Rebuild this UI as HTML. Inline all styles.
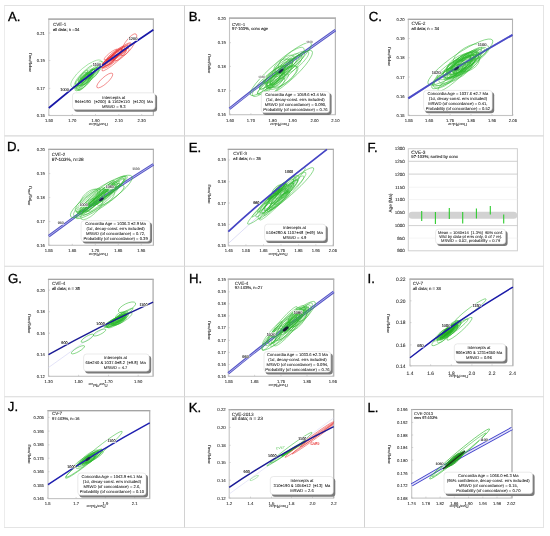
<!DOCTYPE html>
<html><head><meta charset="utf-8"><style>
html,body{margin:0;padding:0;background:#fff;}
svg{display:block;}
svg text{font-family:"Liberation Sans", Arial, sans-serif;text-rendering:geometricPrecision;}
</style></head><body>
<svg width="550" height="536" viewBox="0 0 550 536">
<rect width="550" height="536" fill="#fff"/>
<g fill="none">
<line x1="4" y1="5.5" x2="544" y2="5.5" stroke="#e2e2e2" stroke-width="1"/>
<line x1="4.5" y1="5.5" x2="4.5" y2="527.5" stroke="#ececec" stroke-width="1"/>
<line x1="543.5" y1="5.5" x2="543.5" y2="527.5" stroke="#e4e4e4" stroke-width="1"/>
<line x1="4" y1="527.5" x2="544" y2="527.5" stroke="#e4e4e4" stroke-width="1"/>
<line x1="184.5" y1="5.5" x2="184.5" y2="527.5" stroke="#d2d2d2" stroke-width="1"/>
<line x1="364.5" y1="5.5" x2="364.5" y2="527.5" stroke="#d2d2d2" stroke-width="1"/>
<line x1="4.5" y1="135.9" x2="543.5" y2="135.9" stroke="#d8d8d8" stroke-width="1.1"/>
<line x1="4.5" y1="266.3" x2="543.5" y2="266.3" stroke="#d8d8d8" stroke-width="1.1"/>
<line x1="4.5" y1="396.8" x2="543.5" y2="396.8" stroke="#d8d8d8" stroke-width="1.1"/>
</g>
<text x="8" y="20.5" font-size="13.2" fill="#000" stroke="#000" stroke-width="0.3">A.</text>
<rect x="48.8" y="19.1" width="104.6" height="96.4" fill="#fff" stroke="#c4c4c4" stroke-width="1.1"/>
<line x1="48.25" y1="19.1" x2="153.95" y2="19.1" stroke="#a4a4a4" stroke-width="1.2"/>
<line x1="153.4" y1="19.1" x2="153.4" y2="115.5" stroke="#b4b4b4" stroke-width="1.0"/>
<text x="44.8" y="34.51" font-size="4.2" text-anchor="end" fill="#1a1a1a" stroke="#1a1a1a" stroke-width="0.06">0.21</text>
<line x1="48.8" y1="33" x2="50.3" y2="33" stroke="#bbb" stroke-width="0.6"/>
<text x="44.8" y="62.01" font-size="4.2" text-anchor="end" fill="#1a1a1a" stroke="#1a1a1a" stroke-width="0.06">0.19</text>
<line x1="48.8" y1="60.5" x2="50.3" y2="60.5" stroke="#bbb" stroke-width="0.6"/>
<text x="44.8" y="89.91" font-size="4.2" text-anchor="end" fill="#1a1a1a" stroke="#1a1a1a" stroke-width="0.06">0.17</text>
<line x1="48.8" y1="88.4" x2="50.3" y2="88.4" stroke="#bbb" stroke-width="0.6"/>
<text x="44.8" y="117.01" font-size="4.2" text-anchor="end" fill="#1a1a1a" stroke="#1a1a1a" stroke-width="0.06">0.15</text>
<line x1="48.8" y1="115.5" x2="50.3" y2="115.5" stroke="#bbb" stroke-width="0.6"/>
<text x="49" y="122.01" font-size="4.2" text-anchor="middle" fill="#1a1a1a" stroke="#1a1a1a" stroke-width="0.06">1.50</text>
<line x1="49" y1="115.5" x2="49" y2="114" stroke="#bbb" stroke-width="0.6"/>
<text x="72.3" y="122.01" font-size="4.2" text-anchor="middle" fill="#1a1a1a" stroke="#1a1a1a" stroke-width="0.06">1.70</text>
<line x1="72.3" y1="115.5" x2="72.3" y2="114" stroke="#bbb" stroke-width="0.6"/>
<text x="95.5" y="122.01" font-size="4.2" text-anchor="middle" fill="#1a1a1a" stroke="#1a1a1a" stroke-width="0.06">1.90</text>
<line x1="95.5" y1="115.5" x2="95.5" y2="114" stroke="#bbb" stroke-width="0.6"/>
<text x="118.8" y="122.01" font-size="4.2" text-anchor="middle" fill="#1a1a1a" stroke="#1a1a1a" stroke-width="0.06">2.10</text>
<line x1="118.8" y1="115.5" x2="118.8" y2="114" stroke="#bbb" stroke-width="0.6"/>
<text x="141.7" y="122.01" font-size="4.2" text-anchor="middle" fill="#1a1a1a" stroke="#1a1a1a" stroke-width="0.06">2.30</text>
<line x1="141.7" y1="115.5" x2="141.7" y2="114" stroke="#bbb" stroke-width="0.6"/>
<text x="0" y="0" font-size="4.3" text-anchor="middle" fill="#222" stroke="#222" stroke-width="0.06" transform="translate(32.2 62.3) rotate(-90)"><tspan font-size="2.9" dy="-1.3">206</tspan><tspan dy="1.3">Pb/</tspan><tspan font-size="2.9" dy="-1.3">238</tspan><tspan dy="1.3">U</tspan></text>
<text x="98.3" y="126.1" font-size="4.3" text-anchor="middle" fill="#222" stroke="#222" stroke-width="0.06"><tspan font-size="2.9" dy="-1.3">207</tspan><tspan dy="1.3">Pb/</tspan><tspan font-size="2.9" dy="-1.3">235</tspan><tspan dy="1.3">U</tspan></text>
<text x="52.9" y="25.7" font-size="4.6" fill="#1a1a1a" stroke="#1a1a1a" stroke-width="0.06">CVE-1</text>
<text x="52.9" y="30.5" font-size="4.19" fill="#1a1a1a" stroke="#1a1a1a" stroke-width="0.1">all data; n =34</text>
<ellipse cx="83.86" cy="80.14" rx="6.94" ry="3.62" transform="rotate(-44.22 83.86 80.14)" fill="none" stroke="#2cb82c" stroke-width="0.45"/>
<ellipse cx="85.3" cy="78.96" rx="9.15" ry="3.13" transform="rotate(-47.96 85.3 78.96)" fill="none" stroke="#2cb82c" stroke-width="0.45"/>
<ellipse cx="86.73" cy="77.49" rx="11.85" ry="2.58" transform="rotate(-44.62 86.73 77.49)" fill="none" stroke="#2cb82c" stroke-width="0.45"/>
<ellipse cx="86.09" cy="82.36" rx="11.05" ry="2.07" transform="rotate(-47.94 86.09 82.36)" fill="none" stroke="#2cb82c" stroke-width="0.45"/>
<ellipse cx="86.42" cy="79.69" rx="6.18" ry="2.85" transform="rotate(-46.45 86.42 79.69)" fill="none" stroke="#2cb82c" stroke-width="0.45"/>
<ellipse cx="91.64" cy="73.6" rx="8.95" ry="1.57" transform="rotate(-44.22 91.64 73.6)" fill="none" stroke="#2cb82c" stroke-width="0.45"/>
<ellipse cx="91.8" cy="73.51" rx="7.63" ry="2.08" transform="rotate(-45.87 91.8 73.51)" fill="none" stroke="#2cb82c" stroke-width="0.45"/>
<ellipse cx="83.49" cy="77.46" rx="6.15" ry="3.59" transform="rotate(-46.7 83.49 77.46)" fill="none" stroke="#2cb82c" stroke-width="0.45"/>
<ellipse cx="90.29" cy="75.76" rx="12.95" ry="3.65" transform="rotate(-42.41 90.29 75.76)" fill="none" stroke="#2cb82c" stroke-width="0.45"/>
<ellipse cx="88.97" cy="72" rx="10.98" ry="3.84" transform="rotate(-42.82 88.97 72)" fill="none" stroke="#2cb82c" stroke-width="0.45"/>
<ellipse cx="83.04" cy="83.76" rx="8.12" ry="2.97" transform="rotate(-44.14 83.04 83.76)" fill="none" stroke="#2cb82c" stroke-width="0.45"/>
<ellipse cx="84.86" cy="79.29" rx="10.12" ry="1.59" transform="rotate(-43.8 84.86 79.29)" fill="none" stroke="#2cb82c" stroke-width="0.45"/>
<ellipse cx="84.15" cy="80.42" rx="10.92" ry="3.19" transform="rotate(-44.12 84.15 80.42)" fill="none" stroke="#2cb82c" stroke-width="0.45"/>
<ellipse cx="83.99" cy="81.51" rx="11.45" ry="2.8" transform="rotate(-47.95 83.99 81.51)" fill="none" stroke="#2cb82c" stroke-width="0.45"/>
<ellipse cx="93.36" cy="73.22" rx="6.3" ry="3.26" transform="rotate(-45.04 93.36 73.22)" fill="none" stroke="#2cb82c" stroke-width="0.45"/>
<ellipse cx="94.01" cy="70.81" rx="7.19" ry="2.76" transform="rotate(-43.87 94.01 70.81)" fill="none" stroke="#2cb82c" stroke-width="0.45"/>
<ellipse cx="85.9" cy="77.8" rx="12.02" ry="2.08" transform="rotate(-43.56 85.9 77.8)" fill="none" stroke="#2cb82c" stroke-width="0.45"/>
<ellipse cx="81.34" cy="77.1" rx="9.21" ry="2.17" transform="rotate(-48.14 81.34 77.1)" fill="none" stroke="#2cb82c" stroke-width="0.45"/>
<ellipse cx="83.78" cy="82.7" rx="11.49" ry="3.55" transform="rotate(-41.71 83.78 82.7)" fill="none" stroke="#2cb82c" stroke-width="0.45"/>
<ellipse cx="87.32" cy="76.32" rx="9.63" ry="2.9" transform="rotate(-41.23 87.32 76.32)" fill="none" stroke="#2cb82c" stroke-width="0.45"/>
<ellipse cx="85.64" cy="75.99" rx="9.99" ry="2" transform="rotate(-45.33 85.64 75.99)" fill="none" stroke="#2cb82c" stroke-width="0.45"/>
<ellipse cx="81.91" cy="79.61" rx="8.42" ry="2.85" transform="rotate(-44.52 81.91 79.61)" fill="none" stroke="#2cb82c" stroke-width="0.45"/>
<ellipse cx="86.4" cy="73.65" rx="19.69" ry="6.5" transform="rotate(-40.36 86.4 73.65)" fill="none" stroke="#5ccc5c" stroke-width="0.5"/>
<ellipse cx="88.5" cy="75" rx="19.47" ry="4.8" transform="rotate(-41.88 88.5 75)" fill="none" stroke="#5ccc5c" stroke-width="0.5"/>
<ellipse cx="115.45" cy="57.43" rx="12.69" ry="3.11" transform="rotate(-37.5 115.45 57.43)" fill="none" stroke="#e83030" stroke-width="0.45"/>
<ellipse cx="119.66" cy="52.79" rx="11.15" ry="2.64" transform="rotate(-39.33 119.66 52.79)" fill="none" stroke="#e83030" stroke-width="0.45"/>
<ellipse cx="115.62" cy="55.17" rx="10.07" ry="1.77" transform="rotate(-38.4 115.62 55.17)" fill="none" stroke="#e83030" stroke-width="0.45"/>
<ellipse cx="112.39" cy="57.4" rx="12.96" ry="3.11" transform="rotate(-42.04 112.39 57.4)" fill="none" stroke="#e83030" stroke-width="0.45"/>
<ellipse cx="114.66" cy="55.98" rx="6.25" ry="1.55" transform="rotate(-41.14 114.66 55.98)" fill="none" stroke="#e83030" stroke-width="0.45"/>
<ellipse cx="112.78" cy="57.69" rx="12.24" ry="2.39" transform="rotate(-43.99 112.78 57.69)" fill="none" stroke="#e83030" stroke-width="0.45"/>
<ellipse cx="110.63" cy="54.51" rx="8.28" ry="1.73" transform="rotate(-38.79 110.63 54.51)" fill="none" stroke="#e83030" stroke-width="0.45"/>
<ellipse cx="108.09" cy="63.13" rx="7.27" ry="3.02" transform="rotate(-36.93 108.09 63.13)" fill="none" stroke="#e83030" stroke-width="0.45"/>
<ellipse cx="115.66" cy="53.83" rx="11.34" ry="2.84" transform="rotate(-38.15 115.66 53.83)" fill="none" stroke="#e83030" stroke-width="0.45"/>
<ellipse cx="109.43" cy="61.11" rx="11.01" ry="2.28" transform="rotate(-36.79 109.43 61.11)" fill="none" stroke="#e83030" stroke-width="0.45"/>
<ellipse cx="108.85" cy="61.42" rx="9.51" ry="2.91" transform="rotate(-36.99 108.85 61.42)" fill="none" stroke="#e83030" stroke-width="0.45"/>
<ellipse cx="121.91" cy="54.56" rx="9.23" ry="2.47" transform="rotate(-40.29 121.91 54.56)" fill="none" stroke="#e83030" stroke-width="0.45"/>
<ellipse cx="128.75" cy="44.75" rx="12.97" ry="4.2" transform="rotate(-56 128.75 44.75)" fill="none" stroke="#e83030" stroke-width="0.5"/>
<ellipse cx="115.75" cy="55.25" rx="15.75" ry="2.5" transform="rotate(-35.96 115.75 55.25)" fill="none" stroke="#e83030" stroke-width="0.5"/>
<ellipse cx="114.25" cy="60.25" rx="16.1" ry="2.8" transform="rotate(-40.47 114.25 60.25)" fill="none" stroke="#e83030" stroke-width="0.5"/>
<ellipse cx="118" cy="53" rx="15" ry="2.2" transform="rotate(-36.87 118 53)" fill="none" stroke="#e83030" stroke-width="0.5"/>
<ellipse cx="121" cy="50.5" rx="12.5" ry="2.6" transform="rotate(-36.87 121 50.5)" fill="none" stroke="#e83030" stroke-width="0.5"/>
<ellipse cx="104.75" cy="80.5" rx="10.44" ry="3.2" transform="rotate(-42.09 104.75 80.5)" fill="none" stroke="#e83030" stroke-width="0.5"/>
<path d="M48.8 108 Q98.7 65.7 153.4 29.8" fill="none" stroke="#1818a8" stroke-width="1.7"/>
<rect x="59.86" y="87.84" width="9.47" height="3.51" fill="#fff"/>
<text x="64.6" y="91" font-size="3.9" text-anchor="middle" fill="#1a1a1a" stroke="#1a1a1a" stroke-width="0.12">1000</text>
<rect x="92.26" y="62.54" width="9.47" height="3.51" fill="#fff"/>
<text x="97" y="65.7" font-size="3.9" text-anchor="middle" fill="#1a1a1a" stroke="#1a1a1a" stroke-width="0.12">1100</text>
<rect x="128.26" y="37.24" width="9.47" height="3.51" fill="#fff"/>
<text x="133" y="40.4" font-size="3.9" text-anchor="middle" fill="#1a1a1a" stroke="#1a1a1a" stroke-width="0.12">1200</text>
<rect x="74.1" y="94.6" width="83" height="17.2" rx="3" fill="#7a7a7a"/>
<rect x="72.5" y="92.8" width="82.6" height="16.8" rx="3" fill="#fff" stroke="#d4d4d4" stroke-width="0.5"/>
<text x="113.7" y="98.59" font-size="4.15" text-anchor="middle" fill="#000" stroke="#000" stroke-width="0.03">Intercepts at</text>
<text x="113.7" y="103.29" font-size="4.15" text-anchor="middle" fill="#000" stroke="#000" stroke-width="0.03">944±190 &#160; [±200] &#160;&amp; 1162±110 &#160; [±120] &#160;Ma</text>
<text x="113.7" y="108.09" font-size="4.15" text-anchor="middle" fill="#000" stroke="#000" stroke-width="0.03">MSWD = 9.3</text>
<text x="188.8" y="20.5" font-size="13.2" fill="#000" stroke="#000" stroke-width="0.3">B.</text>
<rect x="229.5" y="18.1" width="105.9" height="96.6" fill="#fff" stroke="#c4c4c4" stroke-width="1.1"/>
<line x1="228.95" y1="18.1" x2="335.95" y2="18.1" stroke="#a4a4a4" stroke-width="1.2"/>
<line x1="335.4" y1="18.1" x2="335.4" y2="114.7" stroke="#b4b4b4" stroke-width="1.0"/>
<text x="225.8" y="19.61" font-size="4.2" text-anchor="end" fill="#1a1a1a" stroke="#1a1a1a" stroke-width="0.06">0.20</text>
<line x1="229.5" y1="18.1" x2="231" y2="18.1" stroke="#bbb" stroke-width="0.6"/>
<text x="225.8" y="44.21" font-size="4.2" text-anchor="end" fill="#1a1a1a" stroke="#1a1a1a" stroke-width="0.06">0.19</text>
<line x1="229.5" y1="42.7" x2="231" y2="42.7" stroke="#bbb" stroke-width="0.6"/>
<text x="225.8" y="67.91" font-size="4.2" text-anchor="end" fill="#1a1a1a" stroke="#1a1a1a" stroke-width="0.06">0.18</text>
<line x1="229.5" y1="66.4" x2="231" y2="66.4" stroke="#bbb" stroke-width="0.6"/>
<text x="225.8" y="92.31" font-size="4.2" text-anchor="end" fill="#1a1a1a" stroke="#1a1a1a" stroke-width="0.06">0.17</text>
<line x1="229.5" y1="90.8" x2="231" y2="90.8" stroke="#bbb" stroke-width="0.6"/>
<text x="225.8" y="116.21" font-size="4.2" text-anchor="end" fill="#1a1a1a" stroke="#1a1a1a" stroke-width="0.06">0.16</text>
<line x1="229.5" y1="114.7" x2="231" y2="114.7" stroke="#bbb" stroke-width="0.6"/>
<text x="230" y="122.01" font-size="4.2" text-anchor="middle" fill="#1a1a1a" stroke="#1a1a1a" stroke-width="0.06">1.60</text>
<line x1="230" y1="114.7" x2="230" y2="113.2" stroke="#bbb" stroke-width="0.6"/>
<text x="250.9" y="122.01" font-size="4.2" text-anchor="middle" fill="#1a1a1a" stroke="#1a1a1a" stroke-width="0.06">1.70</text>
<line x1="250.9" y1="114.7" x2="250.9" y2="113.2" stroke="#bbb" stroke-width="0.6"/>
<text x="272.7" y="122.01" font-size="4.2" text-anchor="middle" fill="#1a1a1a" stroke="#1a1a1a" stroke-width="0.06">1.80</text>
<line x1="272.7" y1="114.7" x2="272.7" y2="113.2" stroke="#bbb" stroke-width="0.6"/>
<text x="292.7" y="122.01" font-size="4.2" text-anchor="middle" fill="#1a1a1a" stroke="#1a1a1a" stroke-width="0.06">1.90</text>
<line x1="292.7" y1="114.7" x2="292.7" y2="113.2" stroke="#bbb" stroke-width="0.6"/>
<text x="314.5" y="122.01" font-size="4.2" text-anchor="middle" fill="#1a1a1a" stroke="#1a1a1a" stroke-width="0.06">2.00</text>
<line x1="314.5" y1="114.7" x2="314.5" y2="113.2" stroke="#bbb" stroke-width="0.6"/>
<text x="335.4" y="122.01" font-size="4.2" text-anchor="middle" fill="#1a1a1a" stroke="#1a1a1a" stroke-width="0.06">2.10</text>
<line x1="335.4" y1="114.7" x2="335.4" y2="113.2" stroke="#bbb" stroke-width="0.6"/>
<text x="0" y="0" font-size="4.3" text-anchor="middle" fill="#222" stroke="#222" stroke-width="0.06" transform="translate(211.2 63.7) rotate(-90)"><tspan font-size="2.9" dy="-1.3">206</tspan><tspan dy="1.3">Pb/</tspan><tspan font-size="2.9" dy="-1.3">238</tspan><tspan dy="1.3">U</tspan></text>
<text x="279.65" y="126.1" font-size="4.3" text-anchor="middle" fill="#222" stroke="#222" stroke-width="0.06"><tspan font-size="2.9" dy="-1.3">207</tspan><tspan dy="1.3">Pb/</tspan><tspan font-size="2.9" dy="-1.3">235</tspan><tspan dy="1.3">U</tspan></text>
<text x="232.1" y="25.8" font-size="4.45" fill="#1a1a1a" stroke="#1a1a1a" stroke-width="0.06">CVE-1</text>
<text x="232.1" y="30" font-size="4.2" fill="#1a1a1a" stroke="#1a1a1a" stroke-width="0.1">97-103%, conc age</text>
<path d="M229.5 108.7 Q281.02 67.47 335.4 30.1" fill="none" stroke="#5656c6" stroke-width="2.7"/>
<path d="M229.5 108.7 Q281.02 67.47 335.4 30.1" fill="none" stroke="#adadea" stroke-width="1"/>
<ellipse cx="289.74" cy="61.92" rx="12.09" ry="4.4" transform="rotate(-39.36 289.74 61.92)" fill="none" stroke="#2cb82c" stroke-width="0.45"/>
<ellipse cx="277.29" cy="77.42" rx="9.85" ry="2.55" transform="rotate(-42.49 277.29 77.42)" fill="none" stroke="#2cb82c" stroke-width="0.45"/>
<ellipse cx="274.8" cy="80.2" rx="21.94" ry="4.15" transform="rotate(-39.25 274.8 80.2)" fill="none" stroke="#2cb82c" stroke-width="0.45"/>
<ellipse cx="275.91" cy="80.12" rx="10.96" ry="4.72" transform="rotate(-38.43 275.91 80.12)" fill="none" stroke="#2cb82c" stroke-width="0.45"/>
<ellipse cx="270.61" cy="81.86" rx="17.73" ry="2.72" transform="rotate(-41.95 270.61 81.86)" fill="none" stroke="#2cb82c" stroke-width="0.45"/>
<ellipse cx="282.1" cy="66.07" rx="9.4" ry="5.53" transform="rotate(-37.33 282.1 66.07)" fill="none" stroke="#2cb82c" stroke-width="0.45"/>
<ellipse cx="289.84" cy="60.05" rx="18.28" ry="5.72" transform="rotate(-40.81 289.84 60.05)" fill="none" stroke="#2cb82c" stroke-width="0.45"/>
<ellipse cx="286.1" cy="70.07" rx="21.16" ry="5.58" transform="rotate(-42.63 286.1 70.07)" fill="none" stroke="#2cb82c" stroke-width="0.45"/>
<ellipse cx="275.98" cy="74.86" rx="21.55" ry="4.03" transform="rotate(-40.31 275.98 74.86)" fill="none" stroke="#2cb82c" stroke-width="0.45"/>
<ellipse cx="274.36" cy="74.23" rx="14.02" ry="3.73" transform="rotate(-37.13 274.36 74.23)" fill="none" stroke="#2cb82c" stroke-width="0.45"/>
<ellipse cx="283.4" cy="77.73" rx="17.87" ry="5.75" transform="rotate(-37.48 283.4 77.73)" fill="none" stroke="#2cb82c" stroke-width="0.45"/>
<ellipse cx="268.63" cy="81.36" rx="21.54" ry="5.67" transform="rotate(-42.68 268.63 81.36)" fill="none" stroke="#2cb82c" stroke-width="0.45"/>
<ellipse cx="280.58" cy="70.68" rx="19.81" ry="4.51" transform="rotate(-37.53 280.58 70.68)" fill="none" stroke="#2cb82c" stroke-width="0.45"/>
<ellipse cx="286.03" cy="69.8" rx="21.87" ry="2.81" transform="rotate(-43.16 286.03 69.8)" fill="none" stroke="#2cb82c" stroke-width="0.45"/>
<ellipse cx="282.62" cy="67.81" rx="12.82" ry="5.19" transform="rotate(-39.45 282.62 67.81)" fill="none" stroke="#2cb82c" stroke-width="0.45"/>
<ellipse cx="273.07" cy="78.73" rx="9.58" ry="5.01" transform="rotate(-36.52 273.07 78.73)" fill="none" stroke="#2cb82c" stroke-width="0.45"/>
<ellipse cx="284.45" cy="76.47" rx="15.57" ry="5.99" transform="rotate(-39.57 284.45 76.47)" fill="none" stroke="#2cb82c" stroke-width="0.45"/>
<ellipse cx="272.83" cy="81.09" rx="9.41" ry="3.19" transform="rotate(-43.11 272.83 81.09)" fill="none" stroke="#2cb82c" stroke-width="0.45"/>
<ellipse cx="274.99" cy="80.64" rx="9.55" ry="5.54" transform="rotate(-37.19 274.99 80.64)" fill="none" stroke="#2cb82c" stroke-width="0.45"/>
<ellipse cx="273.88" cy="87.36" rx="13.91" ry="4.11" transform="rotate(-39.6 273.88 87.36)" fill="none" stroke="#2cb82c" stroke-width="0.45"/>
<ellipse cx="292.14" cy="62.64" rx="16.27" ry="4.67" transform="rotate(-40.92 292.14 62.64)" fill="none" stroke="#2cb82c" stroke-width="0.45"/>
<ellipse cx="273.88" cy="77.24" rx="18.36" ry="3.33" transform="rotate(-40.2 273.88 77.24)" fill="none" stroke="#2cb82c" stroke-width="0.45"/>
<ellipse cx="277.04" cy="85.77" rx="16.13" ry="2.54" transform="rotate(-44.2 277.04 85.77)" fill="none" stroke="#2cb82c" stroke-width="0.45"/>
<ellipse cx="295.47" cy="62.94" rx="17.01" ry="4.71" transform="rotate(-40.63 295.47 62.94)" fill="none" stroke="#2cb82c" stroke-width="0.45"/>
<ellipse cx="279.5" cy="75.95" rx="17.83" ry="3.73" transform="rotate(-44.19 279.5 75.95)" fill="none" stroke="#2cb82c" stroke-width="0.45"/>
<ellipse cx="286.3" cy="62.47" rx="9.79" ry="4.87" transform="rotate(-40.71 286.3 62.47)" fill="none" stroke="#2cb82c" stroke-width="0.45"/>
<ellipse cx="280.75" cy="69" rx="39.89" ry="7.5" transform="rotate(-40.68 280.75 69)" fill="none" stroke="#2cb82c" stroke-width="0.5"/>
<ellipse cx="287" cy="73.5" rx="33.63" ry="7.5" transform="rotate(-41.99 287 73.5)" fill="none" stroke="#2cb82c" stroke-width="0.5"/>
<ellipse cx="281" cy="71" rx="2.8" ry="0.9" transform="rotate(-38 281 71)" fill="#22224a" stroke="#1a1a60" stroke-width="0.5"/>
<rect x="257.95" y="75.7" width="7.69" height="2.79" fill="#fff"/>
<text x="261.8" y="78.22" font-size="3.1" text-anchor="middle" fill="#777" stroke="#777" stroke-width="0.12">1040</text>
<rect x="305.65" y="40.4" width="7.69" height="2.79" fill="#fff"/>
<text x="309.5" y="42.92" font-size="3.1" text-anchor="middle" fill="#777" stroke="#777" stroke-width="0.12">1100</text>
<rect x="262.9" y="93.3" width="68.7" height="21.7" rx="3" fill="#7a7a7a"/>
<rect x="261.3" y="91.5" width="68.3" height="21.3" rx="3" fill="#fff" stroke="#d4d4d4" stroke-width="0.5"/>
<text x="295.45" y="96.09" font-size="4.15" text-anchor="middle" fill="#000" stroke="#000" stroke-width="0.03">Concordia Age = 1059.6 ±3.4 Ma</text>
<text x="295.45" y="100.79" font-size="4.15" text-anchor="middle" fill="#000" stroke="#000" stroke-width="0.03">(1σ, decay-const. errs included)</text>
<text x="295.45" y="105.59" font-size="4.15" text-anchor="middle" fill="#000" stroke="#000" stroke-width="0.03">MSWD (of concordance) = 0.090,</text>
<text x="295.45" y="110.69" font-size="4.15" text-anchor="middle" fill="#000" stroke="#000" stroke-width="0.03">Probability (of concordance) = 0.76</text>
<text x="368.8" y="21" font-size="13.2" fill="#000" stroke="#000" stroke-width="0.3">C.</text>
<rect x="408.3" y="19.3" width="104.2" height="96.2" fill="#fff" stroke="#c4c4c4" stroke-width="1.1"/>
<line x1="407.75" y1="19.3" x2="513.05" y2="19.3" stroke="#a4a4a4" stroke-width="1.2"/>
<line x1="512.5" y1="19.3" x2="512.5" y2="115.5" stroke="#b4b4b4" stroke-width="1.0"/>
<text x="404.6" y="20.71" font-size="4.2" text-anchor="end" fill="#1a1a1a" stroke="#1a1a1a" stroke-width="0.06">0.20</text>
<line x1="408.3" y1="19.2" x2="409.8" y2="19.2" stroke="#bbb" stroke-width="0.6"/>
<text x="404.6" y="40.01" font-size="4.2" text-anchor="end" fill="#1a1a1a" stroke="#1a1a1a" stroke-width="0.06">0.19</text>
<line x1="408.3" y1="38.5" x2="409.8" y2="38.5" stroke="#bbb" stroke-width="0.6"/>
<text x="404.6" y="59.21" font-size="4.2" text-anchor="end" fill="#1a1a1a" stroke="#1a1a1a" stroke-width="0.06">0.18</text>
<line x1="408.3" y1="57.7" x2="409.8" y2="57.7" stroke="#bbb" stroke-width="0.6"/>
<text x="404.6" y="78.51" font-size="4.2" text-anchor="end" fill="#1a1a1a" stroke="#1a1a1a" stroke-width="0.06">0.17</text>
<line x1="408.3" y1="77" x2="409.8" y2="77" stroke="#bbb" stroke-width="0.6"/>
<text x="404.6" y="97.81" font-size="4.2" text-anchor="end" fill="#1a1a1a" stroke="#1a1a1a" stroke-width="0.06">0.16</text>
<line x1="408.3" y1="96.3" x2="409.8" y2="96.3" stroke="#bbb" stroke-width="0.6"/>
<text x="404.6" y="117.01" font-size="4.2" text-anchor="end" fill="#1a1a1a" stroke="#1a1a1a" stroke-width="0.06">0.15</text>
<line x1="408.3" y1="115.5" x2="409.8" y2="115.5" stroke="#bbb" stroke-width="0.6"/>
<text x="408.8" y="122.41" font-size="4.2" text-anchor="middle" fill="#1a1a1a" stroke="#1a1a1a" stroke-width="0.06">1.55</text>
<line x1="408.8" y1="115.5" x2="408.8" y2="114" stroke="#bbb" stroke-width="0.6"/>
<text x="429.2" y="122.41" font-size="4.2" text-anchor="middle" fill="#1a1a1a" stroke="#1a1a1a" stroke-width="0.06">1.65</text>
<line x1="429.2" y1="115.5" x2="429.2" y2="114" stroke="#bbb" stroke-width="0.6"/>
<text x="450.1" y="122.41" font-size="4.2" text-anchor="middle" fill="#1a1a1a" stroke="#1a1a1a" stroke-width="0.06">1.75</text>
<line x1="450.1" y1="115.5" x2="450.1" y2="114" stroke="#bbb" stroke-width="0.6"/>
<text x="471" y="122.41" font-size="4.2" text-anchor="middle" fill="#1a1a1a" stroke="#1a1a1a" stroke-width="0.06">1.85</text>
<line x1="471" y1="115.5" x2="471" y2="114" stroke="#bbb" stroke-width="0.6"/>
<text x="492" y="122.41" font-size="4.2" text-anchor="middle" fill="#1a1a1a" stroke="#1a1a1a" stroke-width="0.06">1.95</text>
<line x1="492" y1="115.5" x2="492" y2="114" stroke="#bbb" stroke-width="0.6"/>
<text x="512.9" y="122.41" font-size="4.2" text-anchor="middle" fill="#1a1a1a" stroke="#1a1a1a" stroke-width="0.06">2.05</text>
<line x1="512.9" y1="115.5" x2="512.9" y2="114" stroke="#bbb" stroke-width="0.6"/>
<text x="0" y="0" font-size="4.3" text-anchor="middle" fill="#222" stroke="#222" stroke-width="0.06" transform="translate(390.9 56.3) rotate(-90)"><tspan font-size="2.9" dy="-1.3">206</tspan><tspan dy="1.3">Pb/</tspan><tspan font-size="2.9" dy="-1.3">238</tspan><tspan dy="1.3">U</tspan></text>
<text x="457.6" y="126.4" font-size="4.3" text-anchor="middle" fill="#222" stroke="#222" stroke-width="0.06"><tspan font-size="2.9" dy="-1.3">207</tspan><tspan dy="1.3">Pb/</tspan><tspan font-size="2.9" dy="-1.3">235</tspan><tspan dy="1.3">U</tspan></text>
<text x="411.5" y="25.4" font-size="4.75" fill="#1a1a1a" stroke="#1a1a1a" stroke-width="0.06">CVE-2</text>
<text x="411.5" y="30" font-size="4.19" fill="#1a1a1a" stroke="#1a1a1a" stroke-width="0.1">all data; n = 34</text>
<path d="M408.3 98.4 Q459.36 64.89 512.5 34.8" fill="none" stroke="#4c4cc8" stroke-width="1.9"/>
<ellipse cx="461.5" cy="63.13" rx="12.07" ry="2.96" transform="rotate(-40.18 461.5 63.13)" fill="none" stroke="#2cb82c" stroke-width="0.45"/>
<ellipse cx="444.85" cy="78.01" rx="14.22" ry="6.63" transform="rotate(-38.01 444.85 78.01)" fill="none" stroke="#2cb82c" stroke-width="0.45"/>
<ellipse cx="463.27" cy="64.41" rx="15.98" ry="3.75" transform="rotate(-38.11 463.27 64.41)" fill="none" stroke="#2cb82c" stroke-width="0.45"/>
<ellipse cx="462.84" cy="66.17" rx="21.06" ry="6.23" transform="rotate(-32.34 462.84 66.17)" fill="none" stroke="#2cb82c" stroke-width="0.45"/>
<ellipse cx="463.25" cy="66.55" rx="18.51" ry="6.35" transform="rotate(-32.63 463.25 66.55)" fill="none" stroke="#2cb82c" stroke-width="0.45"/>
<ellipse cx="463.13" cy="62.65" rx="17.73" ry="4.78" transform="rotate(-39.86 463.13 62.65)" fill="none" stroke="#2cb82c" stroke-width="0.45"/>
<ellipse cx="453.2" cy="74.12" rx="21.15" ry="6.39" transform="rotate(-28.39 453.2 74.12)" fill="none" stroke="#2cb82c" stroke-width="0.45"/>
<ellipse cx="464.98" cy="61.54" rx="16.44" ry="6.47" transform="rotate(-35.32 464.98 61.54)" fill="none" stroke="#2cb82c" stroke-width="0.45"/>
<ellipse cx="461.56" cy="61.24" rx="16.79" ry="4.44" transform="rotate(-29.74 461.56 61.24)" fill="none" stroke="#2cb82c" stroke-width="0.45"/>
<ellipse cx="454.93" cy="71.88" rx="9.56" ry="2.71" transform="rotate(-33.63 454.93 71.88)" fill="none" stroke="#2cb82c" stroke-width="0.45"/>
<ellipse cx="464.16" cy="60.91" rx="15.13" ry="4.04" transform="rotate(-35.34 464.16 60.91)" fill="none" stroke="#2cb82c" stroke-width="0.45"/>
<ellipse cx="457.55" cy="67.44" rx="11.63" ry="5.35" transform="rotate(-30.66 457.55 67.44)" fill="none" stroke="#2cb82c" stroke-width="0.45"/>
<ellipse cx="464.1" cy="66.4" rx="13.17" ry="5.01" transform="rotate(-40.25 464.1 66.4)" fill="none" stroke="#2cb82c" stroke-width="0.45"/>
<ellipse cx="453.44" cy="69.32" rx="11.98" ry="5.94" transform="rotate(-36.48 453.44 69.32)" fill="none" stroke="#2cb82c" stroke-width="0.45"/>
<ellipse cx="472.04" cy="55.9" rx="11.31" ry="4.57" transform="rotate(-28.57 472.04 55.9)" fill="none" stroke="#2cb82c" stroke-width="0.45"/>
<ellipse cx="461.42" cy="66.35" rx="21.41" ry="5.81" transform="rotate(-37.07 461.42 66.35)" fill="none" stroke="#2cb82c" stroke-width="0.45"/>
<ellipse cx="470.81" cy="58.33" rx="21.56" ry="5.99" transform="rotate(-32.43 470.81 58.33)" fill="none" stroke="#2cb82c" stroke-width="0.45"/>
<ellipse cx="469.06" cy="61.1" rx="19.63" ry="3.82" transform="rotate(-39.2 469.06 61.1)" fill="none" stroke="#2cb82c" stroke-width="0.45"/>
<ellipse cx="460" cy="65.58" rx="13.96" ry="6.83" transform="rotate(-40.49 460 65.58)" fill="none" stroke="#2cb82c" stroke-width="0.45"/>
<ellipse cx="463.94" cy="61.2" rx="11.2" ry="6.03" transform="rotate(-39.76 463.94 61.2)" fill="none" stroke="#2cb82c" stroke-width="0.45"/>
<ellipse cx="462.29" cy="64.6" rx="21.76" ry="4.41" transform="rotate(-40.34 462.29 64.6)" fill="none" stroke="#2cb82c" stroke-width="0.45"/>
<ellipse cx="461.46" cy="65.45" rx="11.19" ry="5.55" transform="rotate(-34.25 461.46 65.45)" fill="none" stroke="#2cb82c" stroke-width="0.45"/>
<ellipse cx="468.42" cy="63.32" rx="12.24" ry="6.99" transform="rotate(-30.28 468.42 63.32)" fill="none" stroke="#2cb82c" stroke-width="0.45"/>
<ellipse cx="458.72" cy="64.02" rx="14.32" ry="6.94" transform="rotate(-35.37 458.72 64.02)" fill="none" stroke="#2cb82c" stroke-width="0.45"/>
<ellipse cx="478.54" cy="53.33" rx="9.48" ry="4.4" transform="rotate(-29.48 478.54 53.33)" fill="none" stroke="#2cb82c" stroke-width="0.45"/>
<ellipse cx="465.89" cy="61.76" rx="15.48" ry="2.64" transform="rotate(-38.2 465.89 61.76)" fill="none" stroke="#2cb82c" stroke-width="0.45"/>
<ellipse cx="461.69" cy="65.42" rx="12.01" ry="6.41" transform="rotate(-28.12 461.69 65.42)" fill="none" stroke="#2cb82c" stroke-width="0.45"/>
<ellipse cx="467.49" cy="54.36" rx="16.35" ry="6.96" transform="rotate(-31.96 467.49 54.36)" fill="none" stroke="#2cb82c" stroke-width="0.45"/>
<ellipse cx="458.4" cy="65.3" rx="19.28" ry="5.85" transform="rotate(-38.16 458.4 65.3)" fill="none" stroke="#2cb82c" stroke-width="0.45"/>
<ellipse cx="456.51" cy="71.11" rx="20.36" ry="6.55" transform="rotate(-31.92 456.51 71.11)" fill="none" stroke="#2cb82c" stroke-width="0.45"/>
<ellipse cx="449.35" cy="74.79" rx="19.39" ry="5.39" transform="rotate(-31.95 449.35 74.79)" fill="none" stroke="#2cb82c" stroke-width="0.45"/>
<ellipse cx="451.87" cy="79.35" rx="17.92" ry="3.71" transform="rotate(-40.07 451.87 79.35)" fill="none" stroke="#2cb82c" stroke-width="0.45"/>
<ellipse cx="456.3" cy="67.79" rx="21.62" ry="6.83" transform="rotate(-28.53 456.3 67.79)" fill="none" stroke="#2cb82c" stroke-width="0.45"/>
<ellipse cx="455.85" cy="67.99" rx="10.66" ry="6.86" transform="rotate(-38.77 455.85 67.99)" fill="none" stroke="#2cb82c" stroke-width="0.45"/>
<ellipse cx="460.35" cy="62.05" rx="38.93" ry="8.5" transform="rotate(-34.32 460.35 62.05)" fill="none" stroke="#2cb82c" stroke-width="0.5"/>
<ellipse cx="454" cy="72" rx="27.2" ry="6" transform="rotate(-36.03 454 72)" fill="none" stroke="#2cb82c" stroke-width="0.5"/>
<path d="M408.3 98.4 Q459.36 64.89 512.5 34.8" fill="none" stroke="#4c4cc8" stroke-width="1.9" stroke-opacity="0.45"/>
<ellipse cx="456.7" cy="68.5" rx="2.6" ry="1" transform="rotate(-33 456.7 68.5)" fill="#22224a" stroke="#1a1a60" stroke-width="0.5"/>
<rect x="431.45" y="71.1" width="9.7" height="3.6" fill="#fff"/>
<text x="436.3" y="74.34" font-size="4" text-anchor="middle" fill="#1a1a1a" stroke="#1a1a1a" stroke-width="0.12">1020</text>
<rect x="477.25" y="43.2" width="9.7" height="3.6" fill="#fff"/>
<text x="482.1" y="46.44" font-size="4" text-anchor="middle" fill="#1a1a1a" stroke="#1a1a1a" stroke-width="0.12">1100</text>
<rect x="425.2" y="92.2" width="69" height="21" rx="3" fill="#7a7a7a"/>
<rect x="423.6" y="90.4" width="68.6" height="20.6" rx="3" fill="#fff" stroke="#d4d4d4" stroke-width="0.5"/>
<text x="457.9" y="95.29" font-size="4.15" text-anchor="middle" fill="#000" stroke="#000" stroke-width="0.03">Concordia Age = 1037.6 ±2.7 Ma</text>
<text x="457.9" y="99.99" font-size="4.15" text-anchor="middle" fill="#000" stroke="#000" stroke-width="0.03">(1σ, decay-const. errs included)</text>
<text x="457.9" y="104.89" font-size="4.15" text-anchor="middle" fill="#000" stroke="#000" stroke-width="0.03">MSWD (of concordance) = 0.41,</text>
<text x="457.9" y="109.79" font-size="4.15" text-anchor="middle" fill="#000" stroke="#000" stroke-width="0.03">Probability (of concordance) = 0.52</text>
<text x="7" y="150.8" font-size="13.2" fill="#000" stroke="#000" stroke-width="0.3">D.</text>
<rect x="48.8" y="149.4" width="104.6" height="95.9" fill="#fff" stroke="#c4c4c4" stroke-width="1.1"/>
<line x1="48.25" y1="149.4" x2="153.95" y2="149.4" stroke="#a4a4a4" stroke-width="1.2"/>
<line x1="153.4" y1="149.4" x2="153.4" y2="245.3" stroke="#b4b4b4" stroke-width="1.0"/>
<text x="44.8" y="150.91" font-size="4.2" text-anchor="end" fill="#1a1a1a" stroke="#1a1a1a" stroke-width="0.06">0.20</text>
<line x1="48.8" y1="149.4" x2="50.3" y2="149.4" stroke="#bbb" stroke-width="0.6"/>
<text x="44.8" y="175.11" font-size="4.2" text-anchor="end" fill="#1a1a1a" stroke="#1a1a1a" stroke-width="0.06">0.19</text>
<line x1="48.8" y1="173.6" x2="50.3" y2="173.6" stroke="#bbb" stroke-width="0.6"/>
<text x="44.8" y="199.11" font-size="4.2" text-anchor="end" fill="#1a1a1a" stroke="#1a1a1a" stroke-width="0.06">0.18</text>
<line x1="48.8" y1="197.6" x2="50.3" y2="197.6" stroke="#bbb" stroke-width="0.6"/>
<text x="44.8" y="223.11" font-size="4.2" text-anchor="end" fill="#1a1a1a" stroke="#1a1a1a" stroke-width="0.06">0.17</text>
<line x1="48.8" y1="221.6" x2="50.3" y2="221.6" stroke="#bbb" stroke-width="0.6"/>
<text x="44.8" y="246.81" font-size="4.2" text-anchor="end" fill="#1a1a1a" stroke="#1a1a1a" stroke-width="0.06">0.16</text>
<line x1="48.8" y1="245.3" x2="50.3" y2="245.3" stroke="#bbb" stroke-width="0.6"/>
<text x="48.8" y="252.31" font-size="4.2" text-anchor="middle" fill="#1a1a1a" stroke="#1a1a1a" stroke-width="0.06">1.55</text>
<line x1="48.8" y1="245.3" x2="48.8" y2="243.8" stroke="#bbb" stroke-width="0.6"/>
<text x="72.3" y="252.31" font-size="4.2" text-anchor="middle" fill="#1a1a1a" stroke="#1a1a1a" stroke-width="0.06">1.65</text>
<line x1="72.3" y1="245.3" x2="72.3" y2="243.8" stroke="#bbb" stroke-width="0.6"/>
<text x="95.3" y="252.31" font-size="4.2" text-anchor="middle" fill="#1a1a1a" stroke="#1a1a1a" stroke-width="0.06">1.75</text>
<line x1="95.3" y1="245.3" x2="95.3" y2="243.8" stroke="#bbb" stroke-width="0.6"/>
<text x="118.3" y="252.31" font-size="4.2" text-anchor="middle" fill="#1a1a1a" stroke="#1a1a1a" stroke-width="0.06">1.85</text>
<line x1="118.3" y1="245.3" x2="118.3" y2="243.8" stroke="#bbb" stroke-width="0.6"/>
<text x="141.3" y="252.31" font-size="4.2" text-anchor="middle" fill="#1a1a1a" stroke="#1a1a1a" stroke-width="0.06">1.95</text>
<line x1="141.3" y1="245.3" x2="141.3" y2="243.8" stroke="#bbb" stroke-width="0.6"/>
<text x="0" y="0" font-size="4.3" text-anchor="middle" fill="#222" stroke="#222" stroke-width="0.06" transform="translate(31.6 195.6) rotate(-90)"><tspan font-size="2.9" dy="-1.3">206</tspan><tspan dy="1.3">Pb/</tspan><tspan font-size="2.9" dy="-1.3">238</tspan><tspan dy="1.3">U</tspan></text>
<text x="98.3" y="256.3" font-size="4.3" text-anchor="middle" fill="#222" stroke="#222" stroke-width="0.06"><tspan font-size="2.9" dy="-1.3">207</tspan><tspan dy="1.3">Pb/</tspan><tspan font-size="2.9" dy="-1.3">235</tspan><tspan dy="1.3">U</tspan></text>
<text x="51.8" y="155.7" font-size="4.55" fill="#1a1a1a" stroke="#1a1a1a" stroke-width="0.06">CVE-2</text>
<text x="51.8" y="160.9" font-size="4.7" fill="#1a1a1a" stroke="#1a1a1a" stroke-width="0.1">97-103%, n=28</text>
<path d="M48.8 236.1 Q99.52 197.94 153.4 164.4" fill="none" stroke="#5656c6" stroke-width="2.7"/>
<path d="M48.8 236.1 Q99.52 197.94 153.4 164.4" fill="none" stroke="#adadea" stroke-width="1"/>
<ellipse cx="100.97" cy="198.46" rx="18.72" ry="4.23" transform="rotate(-43.23 100.97 198.46)" fill="none" stroke="#2cb82c" stroke-width="0.45"/>
<ellipse cx="87.73" cy="200.19" rx="16.52" ry="4.83" transform="rotate(-42.56 87.73 200.19)" fill="none" stroke="#2cb82c" stroke-width="0.45"/>
<ellipse cx="88.46" cy="200.97" rx="16.57" ry="2.74" transform="rotate(-43.36 88.46 200.97)" fill="none" stroke="#2cb82c" stroke-width="0.45"/>
<ellipse cx="114.15" cy="187.29" rx="13.03" ry="2.84" transform="rotate(-42.19 114.15 187.29)" fill="none" stroke="#2cb82c" stroke-width="0.45"/>
<ellipse cx="97.15" cy="197.33" rx="21.16" ry="2.42" transform="rotate(-43.45 97.15 197.33)" fill="none" stroke="#2cb82c" stroke-width="0.45"/>
<ellipse cx="106.53" cy="192.34" rx="22.2" ry="2.63" transform="rotate(-36.49 106.53 192.34)" fill="none" stroke="#2cb82c" stroke-width="0.45"/>
<ellipse cx="91.64" cy="209.67" rx="14.05" ry="4.88" transform="rotate(-41.83 91.64 209.67)" fill="none" stroke="#2cb82c" stroke-width="0.45"/>
<ellipse cx="97.19" cy="198.47" rx="23.17" ry="4.07" transform="rotate(-41.08 97.19 198.47)" fill="none" stroke="#2cb82c" stroke-width="0.45"/>
<ellipse cx="104.32" cy="195.17" rx="15.06" ry="2.5" transform="rotate(-41.05 104.32 195.17)" fill="none" stroke="#2cb82c" stroke-width="0.45"/>
<ellipse cx="93.83" cy="200.61" rx="18.44" ry="2.01" transform="rotate(-40.99 93.83 200.61)" fill="none" stroke="#2cb82c" stroke-width="0.45"/>
<ellipse cx="110.28" cy="189.59" rx="21.46" ry="3.44" transform="rotate(-37.83 110.28 189.59)" fill="none" stroke="#2cb82c" stroke-width="0.45"/>
<ellipse cx="105.43" cy="197.85" rx="10.8" ry="4.93" transform="rotate(-36.71 105.43 197.85)" fill="none" stroke="#2cb82c" stroke-width="0.45"/>
<ellipse cx="109.2" cy="189.31" rx="10.25" ry="4.36" transform="rotate(-43.39 109.2 189.31)" fill="none" stroke="#2cb82c" stroke-width="0.45"/>
<ellipse cx="100.57" cy="198.64" rx="10.65" ry="2.54" transform="rotate(-37.42 100.57 198.64)" fill="none" stroke="#2cb82c" stroke-width="0.45"/>
<ellipse cx="107.79" cy="191.09" rx="23.02" ry="4.83" transform="rotate(-39.27 107.79 191.09)" fill="none" stroke="#2cb82c" stroke-width="0.45"/>
<ellipse cx="103.02" cy="195.45" rx="20.86" ry="2.32" transform="rotate(-35.9 103.02 195.45)" fill="none" stroke="#2cb82c" stroke-width="0.45"/>
<ellipse cx="86.08" cy="206.19" rx="11.28" ry="3.02" transform="rotate(-40.75 86.08 206.19)" fill="none" stroke="#2cb82c" stroke-width="0.45"/>
<ellipse cx="96.96" cy="196.06" rx="22.94" ry="3.64" transform="rotate(-42.05 96.96 196.06)" fill="none" stroke="#2cb82c" stroke-width="0.45"/>
<ellipse cx="91.22" cy="205.23" rx="11.09" ry="2.45" transform="rotate(-42.17 91.22 205.23)" fill="none" stroke="#2cb82c" stroke-width="0.45"/>
<ellipse cx="89.21" cy="197.1" rx="10.68" ry="4.96" transform="rotate(-41.57 89.21 197.1)" fill="none" stroke="#2cb82c" stroke-width="0.45"/>
<ellipse cx="92.36" cy="202.03" rx="18.32" ry="4.48" transform="rotate(-43.02 92.36 202.03)" fill="none" stroke="#2cb82c" stroke-width="0.45"/>
<ellipse cx="102.5" cy="196.53" rx="22.82" ry="2.1" transform="rotate(-42.42 102.5 196.53)" fill="none" stroke="#2cb82c" stroke-width="0.45"/>
<ellipse cx="88.78" cy="202.02" rx="20.24" ry="4.85" transform="rotate(-42.61 88.78 202.02)" fill="none" stroke="#2cb82c" stroke-width="0.45"/>
<ellipse cx="95.89" cy="201.33" rx="16.08" ry="2.45" transform="rotate(-39.84 95.89 201.33)" fill="none" stroke="#2cb82c" stroke-width="0.45"/>
<ellipse cx="101.24" cy="199.28" rx="23.99" ry="4.56" transform="rotate(-39.56 101.24 199.28)" fill="none" stroke="#2cb82c" stroke-width="0.45"/>
<ellipse cx="109.92" cy="190.31" rx="20.21" ry="3.44" transform="rotate(-42.29 109.92 190.31)" fill="none" stroke="#2cb82c" stroke-width="0.45"/>
<ellipse cx="101.3" cy="196.45" rx="36.58" ry="8.5" transform="rotate(-33.23 101.3 196.45)" fill="none" stroke="#2cb82c" stroke-width="0.5"/>
<ellipse cx="100" cy="202" rx="28.84" ry="5.5" transform="rotate(-33.69 100 202)" fill="none" stroke="#2cb82c" stroke-width="0.5"/>
<ellipse cx="101.4" cy="199.4" rx="2.4" ry="1" transform="rotate(-32 101.4 199.4)" fill="#22224a" stroke="#1a1a60" stroke-width="0.5"/>
<rect x="57.38" y="221.43" width="6.64" height="3.15" fill="#fff"/>
<text x="60.7" y="224.26" font-size="3.5" text-anchor="middle" fill="#444" stroke="#444" stroke-width="0.12">960</text>
<rect x="79.09" y="203.34" width="9.03" height="3.33" fill="#fff"/>
<text x="83.6" y="206.33" font-size="3.7" text-anchor="middle" fill="#333" stroke="#333" stroke-width="0.12">1000</text>
<rect x="105.29" y="185.34" width="9.03" height="3.33" fill="#fff"/>
<text x="109.8" y="188.33" font-size="3.7" text-anchor="middle" fill="#333" stroke="#333" stroke-width="0.12">1060</text>
<rect x="131.82" y="167.47" width="8.36" height="3.06" fill="#fff"/>
<text x="136" y="170.22" font-size="3.4" text-anchor="middle" fill="#555" stroke="#555" stroke-width="0.12">1100</text>
<rect x="82.7" y="222.5" width="69.3" height="21.1" rx="3" fill="#7a7a7a"/>
<rect x="81.1" y="220.7" width="68.9" height="20.7" rx="3" fill="#fff" stroke="#d4d4d4" stroke-width="0.5"/>
<text x="115.55" y="225.09" font-size="4.15" text-anchor="middle" fill="#000" stroke="#000" stroke-width="0.03">Concordia Age = 1036.3 ±2.9 Ma</text>
<text x="115.55" y="230.09" font-size="4.15" text-anchor="middle" fill="#000" stroke="#000" stroke-width="0.03">(1σ, decay-const. errs included)</text>
<text x="115.55" y="235.09" font-size="4.15" text-anchor="middle" fill="#000" stroke="#000" stroke-width="0.03">MSWD (of concordance) = 0.72,</text>
<text x="115.55" y="240.09" font-size="4.15" text-anchor="middle" fill="#000" stroke="#000" stroke-width="0.03">Probability (of concordance) = 0.39</text>
<text x="188.8" y="151.7" font-size="13.2" fill="#000" stroke="#000" stroke-width="0.3">E.</text>
<rect x="228.3" y="149.4" width="105.1" height="96.4" fill="#fff" stroke="#c4c4c4" stroke-width="1.1"/>
<line x1="227.75" y1="149.4" x2="333.95" y2="149.4" stroke="#a4a4a4" stroke-width="1.2"/>
<line x1="333.4" y1="149.4" x2="333.4" y2="245.8" stroke="#b4b4b4" stroke-width="1.0"/>
<text x="225.8" y="161.41" font-size="4.2" text-anchor="end" fill="#1a1a1a" stroke="#1a1a1a" stroke-width="0.06">0.19</text>
<line x1="228.3" y1="159.9" x2="229.8" y2="159.9" stroke="#bbb" stroke-width="0.6"/>
<text x="225.8" y="183.21" font-size="4.2" text-anchor="end" fill="#1a1a1a" stroke="#1a1a1a" stroke-width="0.06">0.18</text>
<line x1="228.3" y1="181.7" x2="229.8" y2="181.7" stroke="#bbb" stroke-width="0.6"/>
<text x="225.8" y="204.51" font-size="4.2" text-anchor="end" fill="#1a1a1a" stroke="#1a1a1a" stroke-width="0.06">0.17</text>
<line x1="228.3" y1="203" x2="229.8" y2="203" stroke="#bbb" stroke-width="0.6"/>
<text x="225.8" y="225.91" font-size="4.2" text-anchor="end" fill="#1a1a1a" stroke="#1a1a1a" stroke-width="0.06">0.16</text>
<line x1="228.3" y1="224.4" x2="229.8" y2="224.4" stroke="#bbb" stroke-width="0.6"/>
<text x="225.8" y="247.31" font-size="4.2" text-anchor="end" fill="#1a1a1a" stroke="#1a1a1a" stroke-width="0.06">0.15</text>
<line x1="228.3" y1="245.8" x2="229.8" y2="245.8" stroke="#bbb" stroke-width="0.6"/>
<text x="228.8" y="252.31" font-size="4.2" text-anchor="middle" fill="#1a1a1a" stroke="#1a1a1a" stroke-width="0.06">1.45</text>
<line x1="228.8" y1="245.8" x2="228.8" y2="244.3" stroke="#bbb" stroke-width="0.6"/>
<text x="245.9" y="252.31" font-size="4.2" text-anchor="middle" fill="#1a1a1a" stroke="#1a1a1a" stroke-width="0.06">1.55</text>
<line x1="245.9" y1="245.8" x2="245.9" y2="244.3" stroke="#bbb" stroke-width="0.6"/>
<text x="263.5" y="252.31" font-size="4.2" text-anchor="middle" fill="#1a1a1a" stroke="#1a1a1a" stroke-width="0.06">1.65</text>
<line x1="263.5" y1="245.8" x2="263.5" y2="244.3" stroke="#bbb" stroke-width="0.6"/>
<text x="281" y="252.31" font-size="4.2" text-anchor="middle" fill="#1a1a1a" stroke="#1a1a1a" stroke-width="0.06">1.75</text>
<line x1="281" y1="245.8" x2="281" y2="244.3" stroke="#bbb" stroke-width="0.6"/>
<text x="298.6" y="252.31" font-size="4.2" text-anchor="middle" fill="#1a1a1a" stroke="#1a1a1a" stroke-width="0.06">1.85</text>
<line x1="298.6" y1="245.8" x2="298.6" y2="244.3" stroke="#bbb" stroke-width="0.6"/>
<text x="315.8" y="252.31" font-size="4.2" text-anchor="middle" fill="#1a1a1a" stroke="#1a1a1a" stroke-width="0.06">1.95</text>
<line x1="315.8" y1="245.8" x2="315.8" y2="244.3" stroke="#bbb" stroke-width="0.6"/>
<text x="332.9" y="252.31" font-size="4.2" text-anchor="middle" fill="#1a1a1a" stroke="#1a1a1a" stroke-width="0.06">2.05</text>
<line x1="332.9" y1="245.8" x2="332.9" y2="244.3" stroke="#bbb" stroke-width="0.6"/>
<text x="0" y="0" font-size="4.3" text-anchor="middle" fill="#222" stroke="#222" stroke-width="0.06" transform="translate(210.8 194) rotate(-90)"><tspan font-size="2.9" dy="-1.3">206</tspan><tspan dy="1.3">Pb/</tspan><tspan font-size="2.9" dy="-1.3">238</tspan><tspan dy="1.3">U</tspan></text>
<text x="278.05" y="256.3" font-size="4.3" text-anchor="middle" fill="#222" stroke="#222" stroke-width="0.06"><tspan font-size="2.9" dy="-1.3">207</tspan><tspan dy="1.3">Pb/</tspan><tspan font-size="2.9" dy="-1.3">235</tspan><tspan dy="1.3">U</tspan></text>
<text x="233.3" y="155.4" font-size="4.6" fill="#1a1a1a" stroke="#1a1a1a" stroke-width="0.06">CVE-3</text>
<text x="233.3" y="160.4" font-size="4.2" fill="#1a1a1a" stroke="#1a1a1a" stroke-width="0.1">all data; n = 35</text>
<line x1="228.3" y1="243.5" x2="300" y2="178" stroke="#c8c8f0" stroke-width="0.6"/>
<ellipse cx="279.06" cy="193.65" rx="22.69" ry="4.02" transform="rotate(-48.71 279.06 193.65)" fill="none" stroke="#2cb82c" stroke-width="0.45"/>
<ellipse cx="271.05" cy="202.69" rx="20.61" ry="3.07" transform="rotate(-42.55 271.05 202.69)" fill="none" stroke="#2cb82c" stroke-width="0.45"/>
<ellipse cx="270.24" cy="202.82" rx="14.36" ry="3.97" transform="rotate(-44.4 270.24 202.82)" fill="none" stroke="#2cb82c" stroke-width="0.45"/>
<ellipse cx="271.81" cy="197" rx="20.91" ry="2.32" transform="rotate(-46.59 271.81 197)" fill="none" stroke="#2cb82c" stroke-width="0.45"/>
<ellipse cx="273.57" cy="201.87" rx="22.85" ry="3.65" transform="rotate(-47.96 273.57 201.87)" fill="none" stroke="#2cb82c" stroke-width="0.45"/>
<ellipse cx="280.24" cy="193.69" rx="22.8" ry="3.97" transform="rotate(-47.13 280.24 193.69)" fill="none" stroke="#2cb82c" stroke-width="0.45"/>
<ellipse cx="277.74" cy="200.6" rx="20.16" ry="2.59" transform="rotate(-47.1 277.74 200.6)" fill="none" stroke="#2cb82c" stroke-width="0.45"/>
<ellipse cx="274.35" cy="205.49" rx="20.49" ry="2.77" transform="rotate(-44.59 274.35 205.49)" fill="none" stroke="#2cb82c" stroke-width="0.45"/>
<ellipse cx="289.06" cy="190.23" rx="20.31" ry="3.68" transform="rotate(-43.9 289.06 190.23)" fill="none" stroke="#2cb82c" stroke-width="0.45"/>
<ellipse cx="295.15" cy="182.99" rx="14.87" ry="3.39" transform="rotate(-44.51 295.15 182.99)" fill="none" stroke="#2cb82c" stroke-width="0.45"/>
<ellipse cx="278.82" cy="199.21" rx="11.87" ry="3.59" transform="rotate(-44.84 278.82 199.21)" fill="none" stroke="#2cb82c" stroke-width="0.45"/>
<ellipse cx="289.45" cy="188.98" rx="12.21" ry="2.37" transform="rotate(-48.61 289.45 188.98)" fill="none" stroke="#2cb82c" stroke-width="0.45"/>
<ellipse cx="268.33" cy="201.47" rx="22.45" ry="1.85" transform="rotate(-43.75 268.33 201.47)" fill="none" stroke="#2cb82c" stroke-width="0.45"/>
<ellipse cx="278.61" cy="201.62" rx="14.9" ry="2.82" transform="rotate(-40.71 278.61 201.62)" fill="none" stroke="#2cb82c" stroke-width="0.45"/>
<ellipse cx="279.76" cy="196.24" rx="10.86" ry="2.94" transform="rotate(-40.86 279.76 196.24)" fill="none" stroke="#2cb82c" stroke-width="0.45"/>
<ellipse cx="288.36" cy="185.26" rx="13.92" ry="4.44" transform="rotate(-41.59 288.36 185.26)" fill="none" stroke="#2cb82c" stroke-width="0.45"/>
<ellipse cx="281.24" cy="191.39" rx="17.16" ry="4.04" transform="rotate(-44.94 281.24 191.39)" fill="none" stroke="#2cb82c" stroke-width="0.45"/>
<ellipse cx="290.45" cy="183.1" rx="21.29" ry="2.9" transform="rotate(-46.58 290.45 183.1)" fill="none" stroke="#2cb82c" stroke-width="0.45"/>
<ellipse cx="281.57" cy="196.21" rx="17.8" ry="3.92" transform="rotate(-47.72 281.57 196.21)" fill="none" stroke="#2cb82c" stroke-width="0.45"/>
<ellipse cx="279.38" cy="196.13" rx="19.43" ry="2.77" transform="rotate(-41.29 279.38 196.13)" fill="none" stroke="#2cb82c" stroke-width="0.45"/>
<ellipse cx="279.38" cy="188.47" rx="8.17" ry="1.72" transform="rotate(-43.33 279.38 188.47)" fill="none" stroke="#22a822" stroke-width="0.45"/>
<ellipse cx="276.99" cy="191.33" rx="9.95" ry="1.39" transform="rotate(-44.19 276.99 191.33)" fill="none" stroke="#22a822" stroke-width="0.45"/>
<ellipse cx="273.74" cy="194.08" rx="8.01" ry="1.21" transform="rotate(-40.3 273.74 194.08)" fill="none" stroke="#22a822" stroke-width="0.45"/>
<ellipse cx="273.33" cy="195.93" rx="11.74" ry="1.38" transform="rotate(-41.27 273.33 195.93)" fill="none" stroke="#22a822" stroke-width="0.45"/>
<ellipse cx="274.59" cy="192.8" rx="6.16" ry="1.69" transform="rotate(-44.82 274.59 192.8)" fill="none" stroke="#22a822" stroke-width="0.45"/>
<ellipse cx="273.7" cy="194.37" rx="7.86" ry="1.39" transform="rotate(-43.23 273.7 194.37)" fill="none" stroke="#22a822" stroke-width="0.45"/>
<ellipse cx="278.72" cy="189.91" rx="9.86" ry="2.42" transform="rotate(-38.82 278.72 189.91)" fill="none" stroke="#22a822" stroke-width="0.45"/>
<ellipse cx="276.67" cy="190.94" rx="11" ry="2.19" transform="rotate(-45.37 276.67 190.94)" fill="none" stroke="#22a822" stroke-width="0.45"/>
<ellipse cx="280.93" cy="189.64" rx="7.83" ry="1.69" transform="rotate(-40.79 280.93 189.64)" fill="none" stroke="#22a822" stroke-width="0.45"/>
<ellipse cx="276.88" cy="189.19" rx="6.08" ry="2.26" transform="rotate(-42.81 276.88 189.19)" fill="none" stroke="#22a822" stroke-width="0.45"/>
<ellipse cx="272.85" cy="202" rx="33.41" ry="4.2" transform="rotate(-41.18 272.85 202)" fill="none" stroke="#2cb82c" stroke-width="0.5"/>
<ellipse cx="287.75" cy="190.5" rx="34.2" ry="5.5" transform="rotate(-41.15 287.75 190.5)" fill="none" stroke="#2cb82c" stroke-width="0.5"/>
<path d="M228.3 231.6 Q275.73 188.19 327 149.4" fill="none" stroke="#4444c4" stroke-width="1.8"/>
<rect x="252.73" y="200.49" width="7.14" height="3.42" fill="#fff"/>
<text x="256.3" y="203.57" font-size="3.8" text-anchor="middle" fill="#1a1a1a" stroke="#1a1a1a" stroke-width="0.12">980</text>
<rect x="284.37" y="169.79" width="9.25" height="3.42" fill="#fff"/>
<text x="289" y="172.87" font-size="3.8" text-anchor="middle" fill="#1a1a1a" stroke="#1a1a1a" stroke-width="0.12">1060</text>
<rect x="266.2" y="226" width="61.6" height="17" rx="3" fill="#7a7a7a"/>
<rect x="264.6" y="224.2" width="61.2" height="16.6" rx="3" fill="#fff" stroke="#d4d4d4" stroke-width="0.5"/>
<text x="294.6" y="229.29" font-size="4.15" text-anchor="middle" fill="#000" stroke="#000" stroke-width="0.03">Intercepts at</text>
<text x="294.6" y="234.29" font-size="4.15" text-anchor="middle" fill="#000" stroke="#000" stroke-width="0.03">516±280 &amp; 1107±48 &#160;[±49] &#160;Ma</text>
<text x="294.6" y="238.99" font-size="4.15" text-anchor="middle" fill="#000" stroke="#000" stroke-width="0.03">MSWD = 4.9</text>
<text x="367.5" y="151.7" font-size="13.2" fill="#000" stroke="#000" stroke-width="0.3">F.</text>
<rect x="408.3" y="148.7" width="109.1" height="102.1" fill="#fff" stroke="#cfcfcf" stroke-width="1"/>
<line x1="408.3" y1="161.3" x2="517.4" y2="161.3" stroke="#c4c4c4" stroke-width="0.8"/>
<line x1="408.3" y1="174.1" x2="517.4" y2="174.1" stroke="#c4c4c4" stroke-width="0.8"/>
<line x1="408.3" y1="225.6" x2="517.4" y2="225.6" stroke="#c4c4c4" stroke-width="0.8"/>
<line x1="408.3" y1="187.2" x2="517.4" y2="187.2" stroke="#ececec" stroke-width="0.6"/>
<line x1="408.3" y1="199.6" x2="517.4" y2="199.6" stroke="#ececec" stroke-width="0.6"/>
<line x1="408.3" y1="238.1" x2="517.4" y2="238.1" stroke="#ececec" stroke-width="0.6"/>
<text x="404.8" y="150.32" font-size="4.5" text-anchor="end" fill="#1a1a1a" stroke="#1a1a1a" stroke-width="0.06">1300</text>
<text x="404.8" y="162.92" font-size="4.5" text-anchor="end" fill="#1a1a1a" stroke="#1a1a1a" stroke-width="0.06">1250</text>
<text x="404.8" y="175.72" font-size="4.5" text-anchor="end" fill="#1a1a1a" stroke="#1a1a1a" stroke-width="0.06">1200</text>
<text x="404.8" y="188.82" font-size="4.5" text-anchor="end" fill="#1a1a1a" stroke="#1a1a1a" stroke-width="0.06">1150</text>
<text x="404.8" y="201.22" font-size="4.5" text-anchor="end" fill="#1a1a1a" stroke="#1a1a1a" stroke-width="0.06">1100</text>
<text x="404.8" y="214.32" font-size="4.5" text-anchor="end" fill="#1a1a1a" stroke="#1a1a1a" stroke-width="0.06">1050</text>
<text x="404.8" y="227.22" font-size="4.5" text-anchor="end" fill="#1a1a1a" stroke="#1a1a1a" stroke-width="0.06">1000</text>
<text x="404.8" y="239.72" font-size="4.5" text-anchor="end" fill="#1a1a1a" stroke="#1a1a1a" stroke-width="0.06">950</text>
<text x="404.8" y="252.42" font-size="4.5" text-anchor="end" fill="#1a1a1a" stroke="#1a1a1a" stroke-width="0.06">900</text>
<text x="0" y="0" font-size="4.6" text-anchor="middle" fill="#222" stroke="#222" stroke-width="0.08" transform="translate(392.4 203) rotate(-90)">Age (Ma)</text>
<text x="411.3" y="153.5" font-size="4.8" fill="#1a1a1a" stroke="#1a1a1a" stroke-width="0.06">CVE-3</text>
<text x="411.3" y="158.4" font-size="4.24" fill="#1a1a1a" stroke="#1a1a1a" stroke-width="0.1">97-103%; sorted by conc</text>
<rect x="408.6" y="211.7" width="108.6" height="7" rx="3.5" fill="#d2d2d2"/>
<line x1="421.7" y1="211" x2="421.7" y2="221" stroke="#2ecc2e" stroke-width="1.1"/>
<line x1="435.4" y1="212" x2="435.4" y2="224" stroke="#2ecc2e" stroke-width="1.1"/>
<line x1="449.3" y1="208" x2="449.3" y2="219" stroke="#2ecc2e" stroke-width="1.1"/>
<line x1="462.7" y1="212" x2="462.7" y2="223.6" stroke="#2ecc2e" stroke-width="1.1"/>
<line x1="476.4" y1="208.5" x2="476.4" y2="218.6" stroke="#2ecc2e" stroke-width="1.1"/>
<line x1="490.3" y1="206" x2="490.3" y2="214.5" stroke="#2ecc2e" stroke-width="1.1"/>
<line x1="503.7" y1="214.5" x2="503.7" y2="223.6" stroke="#2ecc2e" stroke-width="1.1"/>
<rect x="437.2" y="230.9" width="70.4" height="15.2" rx="3" fill="#7a7a7a"/>
<rect x="435.6" y="229.1" width="70" height="14.8" rx="3" fill="#fff" stroke="#d4d4d4" stroke-width="0.5"/>
<text x="470.6" y="233.68" font-size="4.1" text-anchor="middle" fill="#000" stroke="#000" stroke-width="0.03">Mean = 1040±14 &#160;[1.3%] &#160;95% conf.</text>
<text x="470.6" y="237.88" font-size="4.1" text-anchor="middle" fill="#000" stroke="#000" stroke-width="0.03">Wtd by data-pt errs only, 0 of 7 rej.</text>
<text x="470.6" y="242.08" font-size="4.1" text-anchor="middle" fill="#000" stroke="#000" stroke-width="0.03">MSWD = 0.52, probability = 0.79</text>
<text x="8" y="283" font-size="13.2" fill="#000" stroke="#000" stroke-width="0.3">G.</text>
<rect x="48.5" y="279.4" width="104.6" height="96.9" fill="#fff" stroke="#c4c4c4" stroke-width="1.1"/>
<line x1="47.95" y1="279.4" x2="153.65" y2="279.4" stroke="#a4a4a4" stroke-width="1.2"/>
<line x1="153.1" y1="279.4" x2="153.1" y2="376.3" stroke="#b4b4b4" stroke-width="1.0"/>
<text x="44.8" y="291.61" font-size="4.2" text-anchor="end" fill="#1a1a1a" stroke="#1a1a1a" stroke-width="0.06">0.20</text>
<line x1="48.5" y1="290.1" x2="50" y2="290.1" stroke="#bbb" stroke-width="0.6"/>
<text x="44.8" y="313.21" font-size="4.2" text-anchor="end" fill="#1a1a1a" stroke="#1a1a1a" stroke-width="0.06">0.18</text>
<line x1="48.5" y1="311.7" x2="50" y2="311.7" stroke="#bbb" stroke-width="0.6"/>
<text x="44.8" y="334.71" font-size="4.2" text-anchor="end" fill="#1a1a1a" stroke="#1a1a1a" stroke-width="0.06">0.16</text>
<line x1="48.5" y1="333.2" x2="50" y2="333.2" stroke="#bbb" stroke-width="0.6"/>
<text x="44.8" y="356.41" font-size="4.2" text-anchor="end" fill="#1a1a1a" stroke="#1a1a1a" stroke-width="0.06">0.14</text>
<line x1="48.5" y1="354.9" x2="50" y2="354.9" stroke="#bbb" stroke-width="0.6"/>
<text x="44.8" y="377.81" font-size="4.2" text-anchor="end" fill="#1a1a1a" stroke="#1a1a1a" stroke-width="0.06">0.12</text>
<line x1="48.5" y1="376.3" x2="50" y2="376.3" stroke="#bbb" stroke-width="0.6"/>
<text x="48.7" y="383.21" font-size="4.2" text-anchor="middle" fill="#1a1a1a" stroke="#1a1a1a" stroke-width="0.06">1.30</text>
<line x1="48.7" y1="376.3" x2="48.7" y2="374.8" stroke="#bbb" stroke-width="0.6"/>
<text x="78.6" y="383.21" font-size="4.2" text-anchor="middle" fill="#1a1a1a" stroke="#1a1a1a" stroke-width="0.06">1.50</text>
<line x1="78.6" y1="376.3" x2="78.6" y2="374.8" stroke="#bbb" stroke-width="0.6"/>
<text x="108.5" y="383.21" font-size="4.2" text-anchor="middle" fill="#1a1a1a" stroke="#1a1a1a" stroke-width="0.06">1.70</text>
<line x1="108.5" y1="376.3" x2="108.5" y2="374.8" stroke="#bbb" stroke-width="0.6"/>
<text x="138.2" y="383.21" font-size="4.2" text-anchor="middle" fill="#1a1a1a" stroke="#1a1a1a" stroke-width="0.06">1.90</text>
<line x1="138.2" y1="376.3" x2="138.2" y2="374.8" stroke="#bbb" stroke-width="0.6"/>
<text x="0" y="0" font-size="4.3" text-anchor="middle" fill="#222" stroke="#222" stroke-width="0.06" transform="translate(31.2 323.6) rotate(-90)"><tspan font-size="2.9" dy="-1.3">206</tspan><tspan dy="1.3">Pb/</tspan><tspan font-size="2.9" dy="-1.3">238</tspan><tspan dy="1.3">U</tspan></text>
<text x="98" y="386.7" font-size="4.3" text-anchor="middle" fill="#222" stroke="#222" stroke-width="0.06"><tspan font-size="2.9" dy="-1.3">207</tspan><tspan dy="1.3">Pb/</tspan><tspan font-size="2.9" dy="-1.3">235</tspan><tspan dy="1.3">U</tspan></text>
<text x="51.9" y="285.4" font-size="4.6" fill="#1a1a1a" stroke="#1a1a1a" stroke-width="0.06">CVE-4</text>
<text x="51.9" y="290.4" font-size="4.26" fill="#1a1a1a" stroke="#1a1a1a" stroke-width="0.1">all data; n = 35</text>
<line x1="48.5" y1="367.5" x2="118" y2="318" stroke="#d0d0f4" stroke-width="0.6"/>
<ellipse cx="118.34" cy="319.09" rx="7.27" ry="1.76" transform="rotate(-29.07 118.34 319.09)" fill="none" stroke="#2cb82c" stroke-width="0.45"/>
<ellipse cx="119.76" cy="318.22" rx="7.56" ry="1.6" transform="rotate(-29.89 119.76 318.22)" fill="none" stroke="#2cb82c" stroke-width="0.45"/>
<ellipse cx="123.04" cy="314.3" rx="5.49" ry="1.65" transform="rotate(-32.37 123.04 314.3)" fill="none" stroke="#2cb82c" stroke-width="0.45"/>
<ellipse cx="118.76" cy="321.05" rx="6.56" ry="2.57" transform="rotate(-30.18 118.76 321.05)" fill="none" stroke="#2cb82c" stroke-width="0.45"/>
<ellipse cx="117.25" cy="320.82" rx="11.83" ry="1.58" transform="rotate(-32.2 117.25 320.82)" fill="none" stroke="#2cb82c" stroke-width="0.45"/>
<ellipse cx="117.39" cy="320.35" rx="5.82" ry="2.02" transform="rotate(-28.7 117.39 320.35)" fill="none" stroke="#2cb82c" stroke-width="0.45"/>
<ellipse cx="119.27" cy="318.4" rx="9.47" ry="2.13" transform="rotate(-32.88 119.27 318.4)" fill="none" stroke="#2cb82c" stroke-width="0.45"/>
<ellipse cx="121.33" cy="316.59" rx="6.44" ry="2.66" transform="rotate(-28.67 121.33 316.59)" fill="none" stroke="#2cb82c" stroke-width="0.45"/>
<ellipse cx="113.12" cy="323.01" rx="8.17" ry="2.01" transform="rotate(-31.4 113.12 323.01)" fill="none" stroke="#2cb82c" stroke-width="0.45"/>
<ellipse cx="115.25" cy="322.88" rx="9.02" ry="2.39" transform="rotate(-31.05 115.25 322.88)" fill="none" stroke="#2cb82c" stroke-width="0.45"/>
<ellipse cx="123.04" cy="314.61" rx="11.86" ry="1.7" transform="rotate(-32.14 123.04 314.61)" fill="none" stroke="#2cb82c" stroke-width="0.45"/>
<ellipse cx="112.36" cy="321.55" rx="8.42" ry="1.57" transform="rotate(-28.77 112.36 321.55)" fill="none" stroke="#2cb82c" stroke-width="0.45"/>
<ellipse cx="113.64" cy="321.4" rx="11.13" ry="2.03" transform="rotate(-28.72 113.64 321.4)" fill="none" stroke="#2cb82c" stroke-width="0.45"/>
<ellipse cx="118.83" cy="320.75" rx="8.19" ry="2.93" transform="rotate(-28.04 118.83 320.75)" fill="none" stroke="#2cb82c" stroke-width="0.45"/>
<ellipse cx="120.5" cy="315.38" rx="5.42" ry="2.69" transform="rotate(-30.27 120.5 315.38)" fill="none" stroke="#2cb82c" stroke-width="0.45"/>
<ellipse cx="116.7" cy="319.26" rx="9.68" ry="1.54" transform="rotate(-32.42 116.7 319.26)" fill="none" stroke="#2cb82c" stroke-width="0.45"/>
<ellipse cx="122.58" cy="317.26" rx="5.41" ry="2.81" transform="rotate(-30.23 122.58 317.26)" fill="none" stroke="#2cb82c" stroke-width="0.45"/>
<ellipse cx="114.59" cy="322.36" rx="11.1" ry="1.64" transform="rotate(-26.29 114.59 322.36)" fill="none" stroke="#2cb82c" stroke-width="0.45"/>
<ellipse cx="119.37" cy="319.45" rx="10.73" ry="2.97" transform="rotate(-30.49 119.37 319.45)" fill="none" stroke="#2cb82c" stroke-width="0.45"/>
<ellipse cx="122.39" cy="318.67" rx="11.19" ry="3.13" transform="rotate(-31.5 122.39 318.67)" fill="none" stroke="#2cb82c" stroke-width="0.45"/>
<ellipse cx="117.15" cy="320.86" rx="6.63" ry="2.32" transform="rotate(-33.33 117.15 320.86)" fill="none" stroke="#2cb82c" stroke-width="0.45"/>
<ellipse cx="114.93" cy="320.73" rx="7.93" ry="2.13" transform="rotate(-27.83 114.93 320.73)" fill="none" stroke="#2cb82c" stroke-width="0.45"/>
<ellipse cx="118.47" cy="319.14" rx="8.61" ry="2.55" transform="rotate(-26.16 118.47 319.14)" fill="none" stroke="#2cb82c" stroke-width="0.45"/>
<ellipse cx="115.61" cy="321.41" rx="10.46" ry="2.99" transform="rotate(-30.17 115.61 321.41)" fill="none" stroke="#2cb82c" stroke-width="0.45"/>
<ellipse cx="120.9" cy="318.51" rx="5.72" ry="2.58" transform="rotate(-31.69 120.9 318.51)" fill="none" stroke="#2cb82c" stroke-width="0.45"/>
<ellipse cx="120.05" cy="318.5" rx="6.14" ry="2.08" transform="rotate(-32.15 120.05 318.5)" fill="none" stroke="#2cb82c" stroke-width="0.45"/>
<ellipse cx="127" cy="307.25" rx="9.5" ry="3.6" transform="rotate(-26.57 127 307.25)" fill="none" stroke="#2cb82c" stroke-width="0.5"/>
<ellipse cx="99.6" cy="332.5" rx="6.8" ry="2" transform="rotate(-26.19 99.6 332.5)" fill="none" stroke="#2cb82c" stroke-width="0.5"/>
<ellipse cx="87.35" cy="338.25" rx="7.2" ry="2" transform="rotate(-31.37 87.35 338.25)" fill="none" stroke="#2cb82c" stroke-width="0.5"/>
<ellipse cx="77.95" cy="349.75" rx="7.55" ry="2" transform="rotate(-29.79 77.95 349.75)" fill="none" stroke="#2cb82c" stroke-width="0.5"/>
<path d="M48.5 354.6 Q99.63 326.03 153.1 302.1" fill="none" stroke="#1a1a95" stroke-width="1.5"/>
<rect x="60.93" y="340.99" width="7.14" height="3.42" fill="#fff"/>
<text x="64.5" y="344.07" font-size="3.8" text-anchor="middle" fill="#1a1a1a" stroke="#1a1a1a" stroke-width="0.12">900</text>
<rect x="95.97" y="321.79" width="9.25" height="3.42" fill="#fff"/>
<text x="100.6" y="324.87" font-size="3.8" text-anchor="middle" fill="#1a1a1a" stroke="#1a1a1a" stroke-width="0.12">1000</text>
<rect x="138.87" y="303.19" width="9.25" height="3.42" fill="#fff"/>
<text x="143.5" y="306.27" font-size="3.8" text-anchor="middle" fill="#1a1a1a" stroke="#1a1a1a" stroke-width="0.12">1100</text>
<rect x="85.2" y="355.8" width="66" height="17.6" rx="3" fill="#7a7a7a"/>
<rect x="83.6" y="354" width="65.6" height="17.2" rx="3" fill="#fff" stroke="#d4d4d4" stroke-width="0.5"/>
<text x="115.6" y="359.29" font-size="4.15" text-anchor="middle" fill="#000" stroke="#000" stroke-width="0.03">Intercepts at</text>
<text x="115.6" y="363.99" font-size="4.15" text-anchor="middle" fill="#000" stroke="#000" stroke-width="0.03">65±240 &amp; 1037.0±8.2 &#160;[±9.8] &#160;Ma</text>
<text x="115.6" y="368.99" font-size="4.15" text-anchor="middle" fill="#000" stroke="#000" stroke-width="0.03">MSWD = 4.7</text>
<text x="188.9" y="283" font-size="13.2" fill="#000" stroke="#000" stroke-width="0.3">H.</text>
<rect x="228.3" y="279.2" width="105.4" height="97.1" fill="#fff" stroke="#c4c4c4" stroke-width="1.1"/>
<line x1="227.75" y1="279.2" x2="334.25" y2="279.2" stroke="#a4a4a4" stroke-width="1.2"/>
<line x1="333.7" y1="279.2" x2="333.7" y2="376.3" stroke="#b4b4b4" stroke-width="1.0"/>
<text x="225.8" y="281.11" font-size="4.2" text-anchor="end" fill="#1a1a1a" stroke="#1a1a1a" stroke-width="0.06">0.19</text>
<line x1="228.3" y1="279.6" x2="229.8" y2="279.6" stroke="#bbb" stroke-width="0.6"/>
<text x="225.8" y="293.31" font-size="4.2" text-anchor="end" fill="#1a1a1a" stroke="#1a1a1a" stroke-width="0.06">0.19</text>
<line x1="228.3" y1="291.8" x2="229.8" y2="291.8" stroke="#bbb" stroke-width="0.6"/>
<text x="225.8" y="305.31" font-size="4.2" text-anchor="end" fill="#1a1a1a" stroke="#1a1a1a" stroke-width="0.06">0.18</text>
<line x1="228.3" y1="303.8" x2="229.8" y2="303.8" stroke="#bbb" stroke-width="0.6"/>
<text x="225.8" y="317.41" font-size="4.2" text-anchor="end" fill="#1a1a1a" stroke="#1a1a1a" stroke-width="0.06">0.18</text>
<line x1="228.3" y1="315.9" x2="229.8" y2="315.9" stroke="#bbb" stroke-width="0.6"/>
<text x="225.8" y="329.21" font-size="4.2" text-anchor="end" fill="#1a1a1a" stroke="#1a1a1a" stroke-width="0.06">0.17</text>
<line x1="228.3" y1="327.7" x2="229.8" y2="327.7" stroke="#bbb" stroke-width="0.6"/>
<text x="225.8" y="341.91" font-size="4.2" text-anchor="end" fill="#1a1a1a" stroke="#1a1a1a" stroke-width="0.06">0.17</text>
<line x1="228.3" y1="340.4" x2="229.8" y2="340.4" stroke="#bbb" stroke-width="0.6"/>
<text x="225.8" y="353.91" font-size="4.2" text-anchor="end" fill="#1a1a1a" stroke="#1a1a1a" stroke-width="0.06">0.17</text>
<line x1="228.3" y1="352.4" x2="229.8" y2="352.4" stroke="#bbb" stroke-width="0.6"/>
<text x="225.8" y="366.01" font-size="4.2" text-anchor="end" fill="#1a1a1a" stroke="#1a1a1a" stroke-width="0.06">0.16</text>
<line x1="228.3" y1="364.5" x2="229.8" y2="364.5" stroke="#bbb" stroke-width="0.6"/>
<text x="225.8" y="377.81" font-size="4.2" text-anchor="end" fill="#1a1a1a" stroke="#1a1a1a" stroke-width="0.06">0.16</text>
<line x1="228.3" y1="376.3" x2="229.8" y2="376.3" stroke="#bbb" stroke-width="0.6"/>
<text x="228.8" y="383.01" font-size="4.2" text-anchor="middle" fill="#1a1a1a" stroke="#1a1a1a" stroke-width="0.06">1.55</text>
<line x1="228.8" y1="376.3" x2="228.8" y2="374.8" stroke="#bbb" stroke-width="0.6"/>
<text x="254.6" y="383.01" font-size="4.2" text-anchor="middle" fill="#1a1a1a" stroke="#1a1a1a" stroke-width="0.06">1.65</text>
<line x1="254.6" y1="376.3" x2="254.6" y2="374.8" stroke="#bbb" stroke-width="0.6"/>
<text x="281" y="383.01" font-size="4.2" text-anchor="middle" fill="#1a1a1a" stroke="#1a1a1a" stroke-width="0.06">1.75</text>
<line x1="281" y1="376.3" x2="281" y2="374.8" stroke="#bbb" stroke-width="0.6"/>
<text x="307" y="383.01" font-size="4.2" text-anchor="middle" fill="#1a1a1a" stroke="#1a1a1a" stroke-width="0.06">1.85</text>
<line x1="307" y1="376.3" x2="307" y2="374.8" stroke="#bbb" stroke-width="0.6"/>
<text x="332.9" y="383.01" font-size="4.2" text-anchor="middle" fill="#1a1a1a" stroke="#1a1a1a" stroke-width="0.06">1.95</text>
<line x1="332.9" y1="376.3" x2="332.9" y2="374.8" stroke="#bbb" stroke-width="0.6"/>
<text x="0" y="0" font-size="4.3" text-anchor="middle" fill="#222" stroke="#222" stroke-width="0.06" transform="translate(211.2 330.2) rotate(-90)"><tspan font-size="2.9" dy="-1.3">206</tspan><tspan dy="1.3">Pb/</tspan><tspan font-size="2.9" dy="-1.3">238</tspan><tspan dy="1.3">U</tspan></text>
<text x="278.2" y="387" font-size="4.3" text-anchor="middle" fill="#222" stroke="#222" stroke-width="0.06"><tspan font-size="2.9" dy="-1.3">207</tspan><tspan dy="1.3">Pb/</tspan><tspan font-size="2.9" dy="-1.3">235</tspan><tspan dy="1.3">U</tspan></text>
<text x="234.7" y="284.8" font-size="4.65" fill="#1a1a1a" stroke="#1a1a1a" stroke-width="0.06">CVE-4</text>
<text x="234.7" y="289.3" font-size="4.1" fill="#1a1a1a" stroke="#1a1a1a" stroke-width="0.1">97-103%, n=27</text>
<path d="M228.3 373.3 Q279.78 330.97 333.7 291.8" fill="none" stroke="#5656c6" stroke-width="2.7"/>
<path d="M228.3 373.3 Q279.78 330.97 333.7 291.8" fill="none" stroke="#adadea" stroke-width="1"/>
<ellipse cx="297.58" cy="320.3" rx="12.72" ry="5.37" transform="rotate(-50.39 297.58 320.3)" fill="none" stroke="#2cb82c" stroke-width="0.45"/>
<ellipse cx="298.66" cy="317.02" rx="12.97" ry="5.5" transform="rotate(-47.4 298.66 317.02)" fill="none" stroke="#2cb82c" stroke-width="0.45"/>
<ellipse cx="302.2" cy="314.91" rx="15.44" ry="3.73" transform="rotate(-50.36 302.2 314.91)" fill="none" stroke="#2cb82c" stroke-width="0.45"/>
<ellipse cx="294.9" cy="318.8" rx="12.81" ry="2.07" transform="rotate(-43.86 294.9 318.8)" fill="none" stroke="#2cb82c" stroke-width="0.45"/>
<ellipse cx="296.99" cy="316.81" rx="14.55" ry="2.4" transform="rotate(-48.06 296.99 316.81)" fill="none" stroke="#2cb82c" stroke-width="0.45"/>
<ellipse cx="284.14" cy="330.24" rx="17.93" ry="3.18" transform="rotate(-45.88 284.14 330.24)" fill="none" stroke="#2cb82c" stroke-width="0.45"/>
<ellipse cx="286.89" cy="322.64" rx="20.82" ry="4.04" transform="rotate(-43.51 286.89 322.64)" fill="none" stroke="#2cb82c" stroke-width="0.45"/>
<ellipse cx="297.34" cy="317.93" rx="15.86" ry="2.68" transform="rotate(-45.24 297.34 317.93)" fill="none" stroke="#2cb82c" stroke-width="0.45"/>
<ellipse cx="275.64" cy="334.54" rx="20.57" ry="3" transform="rotate(-49.99 275.64 334.54)" fill="none" stroke="#2cb82c" stroke-width="0.45"/>
<ellipse cx="284.61" cy="333.23" rx="19.17" ry="2.34" transform="rotate(-43.47 284.61 333.23)" fill="none" stroke="#2cb82c" stroke-width="0.45"/>
<ellipse cx="285.97" cy="322.32" rx="20.12" ry="3.76" transform="rotate(-46.84 285.97 322.32)" fill="none" stroke="#2cb82c" stroke-width="0.45"/>
<ellipse cx="295.59" cy="320.27" rx="16.12" ry="2.25" transform="rotate(-45.46 295.59 320.27)" fill="none" stroke="#2cb82c" stroke-width="0.45"/>
<ellipse cx="293.15" cy="318.5" rx="12.64" ry="2.85" transform="rotate(-48.94 293.15 318.5)" fill="none" stroke="#2cb82c" stroke-width="0.45"/>
<ellipse cx="295.56" cy="318.79" rx="15.08" ry="3.32" transform="rotate(-49.67 295.56 318.79)" fill="none" stroke="#2cb82c" stroke-width="0.45"/>
<ellipse cx="272.37" cy="332.99" rx="14.76" ry="2.58" transform="rotate(-49.46 272.37 332.99)" fill="none" stroke="#2cb82c" stroke-width="0.45"/>
<ellipse cx="284.24" cy="321.05" rx="19.2" ry="3.05" transform="rotate(-48.34 284.24 321.05)" fill="none" stroke="#2cb82c" stroke-width="0.45"/>
<ellipse cx="295.28" cy="319.19" rx="12.04" ry="3.52" transform="rotate(-47.51 295.28 319.19)" fill="none" stroke="#2cb82c" stroke-width="0.45"/>
<ellipse cx="290.13" cy="322.96" rx="15.02" ry="4.06" transform="rotate(-50.39 290.13 322.96)" fill="none" stroke="#2cb82c" stroke-width="0.45"/>
<ellipse cx="296.35" cy="314.19" rx="11.28" ry="3.82" transform="rotate(-47.03 296.35 314.19)" fill="none" stroke="#2cb82c" stroke-width="0.45"/>
<ellipse cx="287.6" cy="326.05" rx="18.5" ry="5.43" transform="rotate(-49.95 287.6 326.05)" fill="none" stroke="#2cb82c" stroke-width="0.45"/>
<ellipse cx="279.09" cy="332.81" rx="14.64" ry="4.01" transform="rotate(-43.35 279.09 332.81)" fill="none" stroke="#2cb82c" stroke-width="0.45"/>
<ellipse cx="303.7" cy="313.09" rx="10.04" ry="4.92" transform="rotate(-50.81 303.7 313.09)" fill="none" stroke="#2cb82c" stroke-width="0.45"/>
<ellipse cx="288.18" cy="329.19" rx="21.58" ry="4.66" transform="rotate(-49.65 288.18 329.19)" fill="none" stroke="#2cb82c" stroke-width="0.45"/>
<ellipse cx="294.19" cy="323.53" rx="21.64" ry="3.55" transform="rotate(-47.1 294.19 323.53)" fill="none" stroke="#2cb82c" stroke-width="0.45"/>
<ellipse cx="295.73" cy="321.45" rx="15.68" ry="2.54" transform="rotate(-47.45 295.73 321.45)" fill="none" stroke="#2cb82c" stroke-width="0.45"/>
<ellipse cx="273.56" cy="336.97" rx="11.52" ry="3.54" transform="rotate(-47.3 273.56 336.97)" fill="none" stroke="#2cb82c" stroke-width="0.45"/>
<ellipse cx="292.27" cy="321.76" rx="14.73" ry="3.26" transform="rotate(-47.5 292.27 321.76)" fill="none" stroke="#2cb82c" stroke-width="0.45"/>
<ellipse cx="275.33" cy="335.07" rx="11.3" ry="4.54" transform="rotate(-50.89 275.33 335.07)" fill="none" stroke="#2cb82c" stroke-width="0.45"/>
<ellipse cx="288.5" cy="325.75" rx="35.59" ry="7" transform="rotate(-41.87 288.5 325.75)" fill="none" stroke="#2cb82c" stroke-width="0.5"/>
<ellipse cx="285.7" cy="329" rx="3.2" ry="1.2" transform="rotate(-40 285.7 329)" fill="#181830" stroke="#101030" stroke-width="0.6"/>
<rect x="241.95" y="354.55" width="7.31" height="3.51" fill="#fff"/>
<text x="245.6" y="357.7" font-size="3.9" text-anchor="middle" fill="#1a1a1a" stroke="#1a1a1a" stroke-width="0.12">960</text>
<rect x="266.26" y="332.44" width="9.47" height="3.51" fill="#fff"/>
<text x="271" y="335.6" font-size="3.9" text-anchor="middle" fill="#1a1a1a" stroke="#1a1a1a" stroke-width="0.12">1020</text>
<rect x="293.26" y="310.35" width="9.47" height="3.51" fill="#fff"/>
<text x="298" y="313.5" font-size="3.9" text-anchor="middle" fill="#1a1a1a" stroke="#1a1a1a" stroke-width="0.12">1080</text>
<rect x="265.6" y="353.4" width="67.2" height="21" rx="3" fill="#7a7a7a"/>
<rect x="264" y="351.6" width="66.8" height="20.6" rx="3" fill="#fff" stroke="#d4d4d4" stroke-width="0.5"/>
<text x="297.4" y="356.39" font-size="4.15" text-anchor="middle" fill="#000" stroke="#000" stroke-width="0.03">Concordia Age = 1033.6 ±2.3 Ma</text>
<text x="297.4" y="361.09" font-size="4.15" text-anchor="middle" fill="#000" stroke="#000" stroke-width="0.03">(1σ, decay-const. errs included)</text>
<text x="297.4" y="365.99" font-size="4.15" text-anchor="middle" fill="#000" stroke="#000" stroke-width="0.03">MSWD (of concordance) = 0.094,</text>
<text x="297.4" y="370.59" font-size="4.15" text-anchor="middle" fill="#000" stroke="#000" stroke-width="0.03">Probability (of concordance) = 0.76</text>
<text x="367.5" y="283" font-size="13.2" fill="#000" stroke="#000" stroke-width="0.3">I.</text>
<rect x="410" y="279.2" width="102.9" height="86.6" fill="#fff" stroke="#c4c4c4" stroke-width="1.1"/>
<line x1="409.45" y1="279.2" x2="513.45" y2="279.2" stroke="#a4a4a4" stroke-width="1.2"/>
<line x1="512.9" y1="279.2" x2="512.9" y2="365.8" stroke="#b4b4b4" stroke-width="1.0"/>
<text x="405.5" y="280.96" font-size="4.9" text-anchor="end" fill="#1a1a1a" stroke="#1a1a1a" stroke-width="0.06">0.22</text>
<line x1="410" y1="279.2" x2="411.5" y2="279.2" stroke="#bbb" stroke-width="0.6"/>
<text x="405.5" y="302.56" font-size="4.9" text-anchor="end" fill="#1a1a1a" stroke="#1a1a1a" stroke-width="0.06">0.20</text>
<line x1="410" y1="300.8" x2="411.5" y2="300.8" stroke="#bbb" stroke-width="0.6"/>
<text x="405.5" y="324.36" font-size="4.9" text-anchor="end" fill="#1a1a1a" stroke="#1a1a1a" stroke-width="0.06">0.18</text>
<line x1="410" y1="322.6" x2="411.5" y2="322.6" stroke="#bbb" stroke-width="0.6"/>
<text x="405.5" y="346.66" font-size="4.9" text-anchor="end" fill="#1a1a1a" stroke="#1a1a1a" stroke-width="0.06">0.16</text>
<line x1="410" y1="344.9" x2="411.5" y2="344.9" stroke="#bbb" stroke-width="0.6"/>
<text x="405.5" y="367.86" font-size="4.9" text-anchor="end" fill="#1a1a1a" stroke="#1a1a1a" stroke-width="0.06">0.14</text>
<line x1="410" y1="366.1" x2="411.5" y2="366.1" stroke="#bbb" stroke-width="0.6"/>
<text x="410" y="374.56" font-size="4.9" text-anchor="middle" fill="#1a1a1a" stroke="#1a1a1a" stroke-width="0.06">1.4</text>
<line x1="410" y1="365.8" x2="410" y2="364.3" stroke="#bbb" stroke-width="0.6"/>
<text x="430.6" y="374.56" font-size="4.9" text-anchor="middle" fill="#1a1a1a" stroke="#1a1a1a" stroke-width="0.06">1.6</text>
<line x1="430.6" y1="365.8" x2="430.6" y2="364.3" stroke="#bbb" stroke-width="0.6"/>
<text x="451.3" y="374.56" font-size="4.9" text-anchor="middle" fill="#1a1a1a" stroke="#1a1a1a" stroke-width="0.06">1.8</text>
<line x1="451.3" y1="365.8" x2="451.3" y2="364.3" stroke="#bbb" stroke-width="0.6"/>
<text x="471.9" y="374.56" font-size="4.9" text-anchor="middle" fill="#1a1a1a" stroke="#1a1a1a" stroke-width="0.06">2.0</text>
<line x1="471.9" y1="365.8" x2="471.9" y2="364.3" stroke="#bbb" stroke-width="0.6"/>
<text x="492" y="374.56" font-size="4.9" text-anchor="middle" fill="#1a1a1a" stroke="#1a1a1a" stroke-width="0.06">2.2</text>
<line x1="492" y1="365.8" x2="492" y2="364.3" stroke="#bbb" stroke-width="0.6"/>
<text x="512.5" y="374.56" font-size="4.9" text-anchor="middle" fill="#1a1a1a" stroke="#1a1a1a" stroke-width="0.06">2.4</text>
<line x1="512.5" y1="365.8" x2="512.5" y2="364.3" stroke="#bbb" stroke-width="0.6"/>
<text x="0" y="0" font-size="4.3" text-anchor="middle" fill="#222" stroke="#222" stroke-width="0.06" transform="translate(390.3 323.3) rotate(-90)"><tspan font-size="2.9" dy="-1.3">206</tspan><tspan dy="1.3">Pb/</tspan><tspan font-size="2.9" dy="-1.3">238</tspan><tspan dy="1.3">U</tspan></text>
<text x="458.65" y="378.1" font-size="4.3" text-anchor="middle" fill="#222" stroke="#222" stroke-width="0.06"><tspan font-size="2.9" dy="-1.3">207</tspan><tspan dy="1.3">Pb/</tspan><tspan font-size="2.9" dy="-1.3">235</tspan><tspan dy="1.3">U</tspan></text>
<text x="412.8" y="284.6" font-size="4.6" fill="#1a1a1a" stroke="#1a1a1a" stroke-width="0.06">CV-7</text>
<text x="412.8" y="289.6" font-size="4.28" fill="#1a1a1a" stroke="#1a1a1a" stroke-width="0.1">all data; n = 33</text>
<ellipse cx="455.24" cy="327.45" rx="7.78" ry="2.25" transform="rotate(-44.11 455.24 327.45)" fill="none" stroke="#2cb82c" stroke-width="0.45"/>
<ellipse cx="451.28" cy="330.33" rx="8.02" ry="3.3" transform="rotate(-39.22 451.28 330.33)" fill="none" stroke="#2cb82c" stroke-width="0.45"/>
<ellipse cx="443.39" cy="334.72" rx="5.25" ry="2.26" transform="rotate(-38.36 443.39 334.72)" fill="none" stroke="#2cb82c" stroke-width="0.45"/>
<ellipse cx="451.77" cy="329.7" rx="5.94" ry="1.98" transform="rotate(-36.77 451.77 329.7)" fill="none" stroke="#2cb82c" stroke-width="0.45"/>
<ellipse cx="451.88" cy="326.88" rx="8.54" ry="3.05" transform="rotate(-43.34 451.88 326.88)" fill="none" stroke="#2cb82c" stroke-width="0.45"/>
<ellipse cx="443.56" cy="334.79" rx="6.75" ry="2.85" transform="rotate(-43.46 443.56 334.79)" fill="none" stroke="#2cb82c" stroke-width="0.45"/>
<ellipse cx="455.28" cy="325.33" rx="6.6" ry="1.92" transform="rotate(-42.56 455.28 325.33)" fill="none" stroke="#2cb82c" stroke-width="0.45"/>
<ellipse cx="449.95" cy="331.14" rx="10.32" ry="3.26" transform="rotate(-40.22 449.95 331.14)" fill="none" stroke="#2cb82c" stroke-width="0.45"/>
<ellipse cx="447.11" cy="332.71" rx="5.14" ry="2.35" transform="rotate(-39.38 447.11 332.71)" fill="none" stroke="#2cb82c" stroke-width="0.45"/>
<ellipse cx="446.6" cy="333.28" rx="5.73" ry="2.66" transform="rotate(-44.09 446.6 333.28)" fill="none" stroke="#2cb82c" stroke-width="0.45"/>
<ellipse cx="448.45" cy="331.68" rx="5.5" ry="2.58" transform="rotate(-40.18 448.45 331.68)" fill="none" stroke="#2cb82c" stroke-width="0.45"/>
<ellipse cx="450.87" cy="327.79" rx="10.53" ry="2.34" transform="rotate(-43.41 450.87 327.79)" fill="none" stroke="#2cb82c" stroke-width="0.45"/>
<ellipse cx="440.1" cy="335.22" rx="8.48" ry="1.85" transform="rotate(-43.72 440.1 335.22)" fill="none" stroke="#2cb82c" stroke-width="0.45"/>
<ellipse cx="450.97" cy="329.76" rx="8.33" ry="2.71" transform="rotate(-36.2 450.97 329.76)" fill="none" stroke="#2cb82c" stroke-width="0.45"/>
<ellipse cx="448.06" cy="330.59" rx="10.99" ry="1.74" transform="rotate(-43.81 448.06 330.59)" fill="none" stroke="#2cb82c" stroke-width="0.45"/>
<ellipse cx="442.73" cy="337.38" rx="7.2" ry="2.85" transform="rotate(-43.46 442.73 337.38)" fill="none" stroke="#2cb82c" stroke-width="0.45"/>
<ellipse cx="443.45" cy="333.89" rx="7.08" ry="3.23" transform="rotate(-40.94 443.45 333.89)" fill="none" stroke="#2cb82c" stroke-width="0.45"/>
<ellipse cx="448.53" cy="330.38" rx="10.92" ry="2.65" transform="rotate(-41.53 448.53 330.38)" fill="none" stroke="#2cb82c" stroke-width="0.45"/>
<ellipse cx="448.77" cy="329.84" rx="7.6" ry="1.93" transform="rotate(-43.45 448.77 329.84)" fill="none" stroke="#2cb82c" stroke-width="0.45"/>
<ellipse cx="447.1" cy="332.27" rx="8.78" ry="1.71" transform="rotate(-37.91 447.1 332.27)" fill="none" stroke="#2cb82c" stroke-width="0.45"/>
<ellipse cx="444.81" cy="333.76" rx="9.85" ry="2.49" transform="rotate(-38.26 444.81 333.76)" fill="none" stroke="#2cb82c" stroke-width="0.45"/>
<ellipse cx="447.66" cy="333.02" rx="7.55" ry="1.96" transform="rotate(-41.17 447.66 333.02)" fill="none" stroke="#2cb82c" stroke-width="0.45"/>
<ellipse cx="445.58" cy="333.02" rx="10.16" ry="2.24" transform="rotate(-37.41 445.58 333.02)" fill="none" stroke="#2cb82c" stroke-width="0.45"/>
<ellipse cx="447.98" cy="332.29" rx="6.55" ry="1.6" transform="rotate(-36.59 447.98 332.29)" fill="none" stroke="#2cb82c" stroke-width="0.45"/>
<ellipse cx="448.33" cy="331.69" rx="10.92" ry="2.71" transform="rotate(-42.49 448.33 331.69)" fill="none" stroke="#2cb82c" stroke-width="0.45"/>
<ellipse cx="447.74" cy="332.87" rx="7.33" ry="2.72" transform="rotate(-43.03 447.74 332.87)" fill="none" stroke="#2cb82c" stroke-width="0.45"/>
<ellipse cx="451.44" cy="330.18" rx="8.37" ry="1.77" transform="rotate(-38.59 451.44 330.18)" fill="none" stroke="#2cb82c" stroke-width="0.45"/>
<ellipse cx="440.86" cy="336.49" rx="5.39" ry="2.4" transform="rotate(-41.09 440.86 336.49)" fill="none" stroke="#2cb82c" stroke-width="0.45"/>
<ellipse cx="451.35" cy="328.4" rx="10.32" ry="1.84" transform="rotate(-43.36 451.35 328.4)" fill="none" stroke="#2cb82c" stroke-width="0.45"/>
<ellipse cx="450.25" cy="328.72" rx="5.29" ry="2.56" transform="rotate(-43.48 450.25 328.72)" fill="none" stroke="#2cb82c" stroke-width="0.45"/>
<ellipse cx="447.09" cy="330.31" rx="6.71" ry="2.18" transform="rotate(-41.51 447.09 330.31)" fill="none" stroke="#20a820" stroke-width="0.45"/>
<ellipse cx="450.05" cy="329.22" rx="7.99" ry="1.43" transform="rotate(-42.58 450.05 329.22)" fill="none" stroke="#20a820" stroke-width="0.45"/>
<ellipse cx="449.93" cy="329.49" rx="5.31" ry="1.4" transform="rotate(-42.17 449.93 329.49)" fill="none" stroke="#20a820" stroke-width="0.45"/>
<ellipse cx="449.1" cy="330.09" rx="6.28" ry="1.3" transform="rotate(-40.32 449.1 330.09)" fill="none" stroke="#20a820" stroke-width="0.45"/>
<ellipse cx="445.19" cy="333" rx="5.55" ry="2.1" transform="rotate(-43.86 445.19 333)" fill="none" stroke="#20a820" stroke-width="0.45"/>
<ellipse cx="450.24" cy="327.82" rx="6.91" ry="2.13" transform="rotate(-42.27 450.24 327.82)" fill="none" stroke="#20a820" stroke-width="0.45"/>
<ellipse cx="448.65" cy="330.48" rx="7.66" ry="2.25" transform="rotate(-38.81 448.65 330.48)" fill="none" stroke="#20a820" stroke-width="0.45"/>
<ellipse cx="451.18" cy="328.91" rx="7.21" ry="1.59" transform="rotate(-43.82 451.18 328.91)" fill="none" stroke="#20a820" stroke-width="0.45"/>
<ellipse cx="445.11" cy="333.63" rx="6.82" ry="1.01" transform="rotate(-43.7 445.11 333.63)" fill="none" stroke="#20a820" stroke-width="0.45"/>
<ellipse cx="443.78" cy="334.13" rx="5.92" ry="1.75" transform="rotate(-37.73 443.78 334.13)" fill="none" stroke="#20a820" stroke-width="0.45"/>
<ellipse cx="451.46" cy="328.93" rx="7.56" ry="1.37" transform="rotate(-43.75 451.46 328.93)" fill="none" stroke="#20a820" stroke-width="0.45"/>
<ellipse cx="449.75" cy="329.22" rx="6.82" ry="1.39" transform="rotate(-41.43 449.75 329.22)" fill="none" stroke="#20a820" stroke-width="0.45"/>
<ellipse cx="446.79" cy="331.92" rx="6.94" ry="1.69" transform="rotate(-44.3 446.79 331.92)" fill="none" stroke="#20a820" stroke-width="0.45"/>
<ellipse cx="448.55" cy="331.15" rx="4.84" ry="2.03" transform="rotate(-44.13 448.55 331.15)" fill="none" stroke="#20a820" stroke-width="0.45"/>
<ellipse cx="446.5" cy="333.75" rx="18.66" ry="3.6" transform="rotate(-39.02 446.5 333.75)" fill="none" stroke="#2cb82c" stroke-width="0.5"/>
<ellipse cx="459.5" cy="328.75" rx="16.82" ry="3" transform="rotate(-41.99 459.5 328.75)" fill="none" stroke="#2cb82c" stroke-width="0.5"/>
<ellipse cx="470.5" cy="310.5" rx="19.3" ry="2.6" transform="rotate(-36.57 470.5 310.5)" fill="none" stroke="#2cb82c" stroke-width="0.5"/>
<ellipse cx="454" cy="329.5" rx="17.5" ry="2.4" transform="rotate(-36.87 454 329.5)" fill="none" stroke="#2cb82c" stroke-width="0.5"/>
<path d="M410 357.8 Q458.96 318.82 512.9 287.1" fill="none" stroke="#1a1aa8" stroke-width="1.45"/>
<rect x="416.85" y="343.94" width="7.31" height="3.51" fill="#fff"/>
<text x="420.5" y="347.1" font-size="3.9" text-anchor="middle" fill="#1a1a1a" stroke="#1a1a1a" stroke-width="0.12">950</text>
<rect x="441.26" y="323.64" width="9.47" height="3.51" fill="#fff"/>
<text x="446" y="326.8" font-size="3.9" text-anchor="middle" fill="#1a1a1a" stroke="#1a1a1a" stroke-width="0.12">1050</text>
<rect x="471.86" y="303.44" width="9.47" height="3.51" fill="#fff"/>
<text x="476.6" y="306.6" font-size="3.9" text-anchor="middle" fill="#1a1a1a" stroke="#1a1a1a" stroke-width="0.12">1150</text>
<rect x="455.9" y="345.6" width="51.5" height="17.8" rx="3" fill="#7a7a7a"/>
<rect x="454.3" y="343.8" width="51.1" height="17.4" rx="3" fill="#fff" stroke="#d4d4d4" stroke-width="0.5"/>
<text x="479" y="349.19" font-size="4.15" text-anchor="middle" fill="#000" stroke="#000" stroke-width="0.03">Intercepts at</text>
<text x="479" y="353.89" font-size="4.15" text-anchor="middle" fill="#000" stroke="#000" stroke-width="0.03">906±180 &amp; 1231±350 Ma</text>
<text x="479" y="358.89" font-size="4.15" text-anchor="middle" fill="#000" stroke="#000" stroke-width="0.03">MSWD = 0.96</text>
<text x="7.8" y="411.2" font-size="13.2" fill="#000" stroke="#000" stroke-width="0.3">J.</text>
<rect x="48" y="410.7" width="101.7" height="87.9" fill="#fff" stroke="#c4c4c4" stroke-width="1.1"/>
<line x1="47.45" y1="410.7" x2="150.25" y2="410.7" stroke="#a4a4a4" stroke-width="1.2"/>
<line x1="149.7" y1="410.7" x2="149.7" y2="498.6" stroke="#b4b4b4" stroke-width="1.0"/>
<text x="43.9" y="418.91" font-size="4.2" text-anchor="end" fill="#1a1a1a" stroke="#1a1a1a" stroke-width="0.06">0.205</text>
<line x1="48" y1="417.4" x2="49.5" y2="417.4" stroke="#bbb" stroke-width="0.6"/>
<text x="43.9" y="432.61" font-size="4.2" text-anchor="end" fill="#1a1a1a" stroke="#1a1a1a" stroke-width="0.06">0.195</text>
<line x1="48" y1="431.1" x2="49.5" y2="431.1" stroke="#bbb" stroke-width="0.6"/>
<text x="43.9" y="446.31" font-size="4.2" text-anchor="end" fill="#1a1a1a" stroke="#1a1a1a" stroke-width="0.06">0.185</text>
<line x1="48" y1="444.8" x2="49.5" y2="444.8" stroke="#bbb" stroke-width="0.6"/>
<text x="43.9" y="459.71" font-size="4.2" text-anchor="end" fill="#1a1a1a" stroke="#1a1a1a" stroke-width="0.06">0.175</text>
<line x1="48" y1="458.2" x2="49.5" y2="458.2" stroke="#bbb" stroke-width="0.6"/>
<text x="43.9" y="473.21" font-size="4.2" text-anchor="end" fill="#1a1a1a" stroke="#1a1a1a" stroke-width="0.06">0.165</text>
<line x1="48" y1="471.7" x2="49.5" y2="471.7" stroke="#bbb" stroke-width="0.6"/>
<text x="43.9" y="486.71" font-size="4.2" text-anchor="end" fill="#1a1a1a" stroke="#1a1a1a" stroke-width="0.06">0.155</text>
<line x1="48" y1="485.2" x2="49.5" y2="485.2" stroke="#bbb" stroke-width="0.6"/>
<text x="43.9" y="500.11" font-size="4.2" text-anchor="end" fill="#1a1a1a" stroke="#1a1a1a" stroke-width="0.06">0.145</text>
<line x1="48" y1="498.6" x2="49.5" y2="498.6" stroke="#bbb" stroke-width="0.6"/>
<text x="47.7" y="505.31" font-size="4.2" text-anchor="middle" fill="#1a1a1a" stroke="#1a1a1a" stroke-width="0.06">1.5</text>
<line x1="47.7" y1="498.6" x2="47.7" y2="497.1" stroke="#bbb" stroke-width="0.6"/>
<text x="76.1" y="505.31" font-size="4.2" text-anchor="middle" fill="#1a1a1a" stroke="#1a1a1a" stroke-width="0.06">1.7</text>
<line x1="76.1" y1="498.6" x2="76.1" y2="497.1" stroke="#bbb" stroke-width="0.6"/>
<text x="105.4" y="505.31" font-size="4.2" text-anchor="middle" fill="#1a1a1a" stroke="#1a1a1a" stroke-width="0.06">1.9</text>
<line x1="105.4" y1="498.6" x2="105.4" y2="497.1" stroke="#bbb" stroke-width="0.6"/>
<text x="134.7" y="505.31" font-size="4.2" text-anchor="middle" fill="#1a1a1a" stroke="#1a1a1a" stroke-width="0.06">2.1</text>
<line x1="134.7" y1="498.6" x2="134.7" y2="497.1" stroke="#bbb" stroke-width="0.6"/>
<text x="0" y="0" font-size="4.3" text-anchor="middle" fill="#222" stroke="#222" stroke-width="0.06" transform="translate(30.8 454) rotate(-90)"><tspan font-size="2.9" dy="-1.3">206</tspan><tspan dy="1.3">Pb/</tspan><tspan font-size="2.9" dy="-1.3">238</tspan><tspan dy="1.3">U</tspan></text>
<text x="96.05" y="508.4" font-size="4.3" text-anchor="middle" fill="#222" stroke="#222" stroke-width="0.06"><tspan font-size="2.9" dy="-1.3">207</tspan><tspan dy="1.3">Pb/</tspan><tspan font-size="2.9" dy="-1.3">235</tspan><tspan dy="1.3">U</tspan></text>
<text x="51.9" y="415.2" font-size="4.6" fill="#1a1a1a" stroke="#1a1a1a" stroke-width="0.06">CV-7</text>
<text x="51.9" y="420.3" font-size="4.05" fill="#1a1a1a" stroke="#1a1a1a" stroke-width="0.1">97-103%, n=16</text>
<ellipse cx="93.85" cy="454.8" rx="36.62" ry="3.5" transform="rotate(-39.52 93.85 454.8)" fill="none" stroke="#2cb82c" stroke-width="0.5"/>
<ellipse cx="85.94" cy="459.59" rx="9.57" ry="2.06" transform="rotate(-30.96 85.94 459.59)" fill="none" stroke="#2cb82c" stroke-width="0.45"/>
<ellipse cx="92.71" cy="456.9" rx="11.59" ry="2.51" transform="rotate(-34.84 92.71 456.9)" fill="none" stroke="#2cb82c" stroke-width="0.45"/>
<ellipse cx="87.92" cy="459.57" rx="7" ry="3.11" transform="rotate(-30.58 87.92 459.57)" fill="none" stroke="#2cb82c" stroke-width="0.45"/>
<ellipse cx="94.03" cy="454.65" rx="9.83" ry="1.96" transform="rotate(-33.81 94.03 454.65)" fill="none" stroke="#2cb82c" stroke-width="0.45"/>
<ellipse cx="94.12" cy="456.69" rx="10.49" ry="2.52" transform="rotate(-29.61 94.12 456.69)" fill="none" stroke="#2cb82c" stroke-width="0.45"/>
<ellipse cx="87.92" cy="459.26" rx="12.76" ry="2.43" transform="rotate(-36.39 87.92 459.26)" fill="none" stroke="#2cb82c" stroke-width="0.45"/>
<ellipse cx="84.61" cy="459.28" rx="12.53" ry="1.81" transform="rotate(-33.98 84.61 459.28)" fill="none" stroke="#2cb82c" stroke-width="0.45"/>
<ellipse cx="89.96" cy="459.46" rx="5.52" ry="2.37" transform="rotate(-35.67 89.96 459.46)" fill="none" stroke="#2cb82c" stroke-width="0.45"/>
<ellipse cx="87.6" cy="458.65" rx="8.3" ry="1.27" transform="rotate(-32.2 87.6 458.65)" fill="none" stroke="#2cb82c" stroke-width="0.45"/>
<ellipse cx="92.88" cy="456.96" rx="9.27" ry="2.91" transform="rotate(-34.47 92.88 456.96)" fill="none" stroke="#2cb82c" stroke-width="0.45"/>
<ellipse cx="85.83" cy="460.62" rx="9.81" ry="1.43" transform="rotate(-36.13 85.83 460.62)" fill="none" stroke="#2cb82c" stroke-width="0.45"/>
<ellipse cx="88.99" cy="457.07" rx="11.46" ry="3.1" transform="rotate(-35.5 88.99 457.07)" fill="none" stroke="#2cb82c" stroke-width="0.45"/>
<ellipse cx="89.91" cy="458.14" rx="7.2" ry="2.43" transform="rotate(-33.82 89.91 458.14)" fill="none" stroke="#2cb82c" stroke-width="0.45"/>
<ellipse cx="81.33" cy="464.57" rx="6.32" ry="2.5" transform="rotate(-33.62 81.33 464.57)" fill="none" stroke="#2cb82c" stroke-width="0.45"/>
<ellipse cx="89.01" cy="460.68" rx="7.78" ry="2.07" transform="rotate(-34.81 89.01 460.68)" fill="none" stroke="#2cb82c" stroke-width="0.45"/>
<ellipse cx="88.8" cy="456.76" rx="7.56" ry="1.36" transform="rotate(-34.34 88.8 456.76)" fill="none" stroke="#2cb82c" stroke-width="0.45"/>
<ellipse cx="92.33" cy="456.32" rx="11.96" ry="2.55" transform="rotate(-32.65 92.33 456.32)" fill="none" stroke="#2cb82c" stroke-width="0.45"/>
<ellipse cx="82.5" cy="464.5" rx="20.7" ry="2.4" transform="rotate(-37.15 82.5 464.5)" fill="none" stroke="#2cb82c" stroke-width="0.5"/>
<path d="M48 484.7 Q97.29 451.19 149.7 422.8" fill="none" stroke="#1f1fb0" stroke-width="1.5"/>
<ellipse cx="88" cy="459" rx="2.6" ry="1" transform="rotate(-36 88 459)" fill="#22224a" stroke="#1a1a60" stroke-width="0.6"/>
<rect x="66.77" y="464.89" width="9.25" height="3.42" fill="#fff"/>
<text x="71.4" y="467.97" font-size="3.8" text-anchor="middle" fill="#1a1a1a" stroke="#1a1a1a" stroke-width="0.12">1000</text>
<rect x="106.87" y="439.29" width="9.25" height="3.42" fill="#fff"/>
<text x="111.5" y="442.37" font-size="3.8" text-anchor="middle" fill="#1a1a1a" stroke="#1a1a1a" stroke-width="0.12">1100</text>
<rect x="79.4" y="474.8" width="68.6" height="22.6" rx="3" fill="#7a7a7a"/>
<rect x="77.8" y="473" width="68.2" height="22.2" rx="3" fill="#fff" stroke="#d4d4d4" stroke-width="0.5"/>
<text x="111.9" y="477.89" font-size="4.15" text-anchor="middle" fill="#000" stroke="#000" stroke-width="0.03">Concordia Age = 1043.9 ±4.1 Ma</text>
<text x="111.9" y="482.59" font-size="4.15" text-anchor="middle" fill="#000" stroke="#000" stroke-width="0.03">(1σ, decay-const. errs included)</text>
<text x="111.9" y="487.69" font-size="4.15" text-anchor="middle" fill="#000" stroke="#000" stroke-width="0.03">MSWD (of concordance) = 2.6,</text>
<text x="111.9" y="492.69" font-size="4.15" text-anchor="middle" fill="#000" stroke="#000" stroke-width="0.03">Probability (of concordance) = 0.10</text>
<text x="188.8" y="411.5" font-size="13.2" fill="#000" stroke="#000" stroke-width="0.3">K.</text>
<rect x="229.2" y="409.7" width="104.5" height="88.4" fill="#fff" stroke="#c4c4c4" stroke-width="1.1"/>
<line x1="228.65" y1="409.7" x2="334.25" y2="409.7" stroke="#a4a4a4" stroke-width="1.2"/>
<line x1="333.7" y1="409.7" x2="333.7" y2="498.1" stroke="#b4b4b4" stroke-width="1.0"/>
<text x="225.8" y="411.28" font-size="4.4" text-anchor="end" fill="#1a1a1a" stroke="#1a1a1a" stroke-width="0.06">0.22</text>
<line x1="229.2" y1="409.7" x2="230.7" y2="409.7" stroke="#bbb" stroke-width="0.6"/>
<text x="225.8" y="428.98" font-size="4.4" text-anchor="end" fill="#1a1a1a" stroke="#1a1a1a" stroke-width="0.06">0.20</text>
<line x1="229.2" y1="427.4" x2="230.7" y2="427.4" stroke="#bbb" stroke-width="0.6"/>
<text x="225.8" y="446.88" font-size="4.4" text-anchor="end" fill="#1a1a1a" stroke="#1a1a1a" stroke-width="0.06">0.18</text>
<line x1="229.2" y1="445.3" x2="230.7" y2="445.3" stroke="#bbb" stroke-width="0.6"/>
<text x="225.8" y="464.08" font-size="4.4" text-anchor="end" fill="#1a1a1a" stroke="#1a1a1a" stroke-width="0.06">0.16</text>
<line x1="229.2" y1="462.5" x2="230.7" y2="462.5" stroke="#bbb" stroke-width="0.6"/>
<text x="225.8" y="481.78" font-size="4.4" text-anchor="end" fill="#1a1a1a" stroke="#1a1a1a" stroke-width="0.06">0.14</text>
<line x1="229.2" y1="480.2" x2="230.7" y2="480.2" stroke="#bbb" stroke-width="0.6"/>
<text x="225.8" y="499.68" font-size="4.4" text-anchor="end" fill="#1a1a1a" stroke="#1a1a1a" stroke-width="0.06">0.12</text>
<line x1="229.2" y1="498.1" x2="230.7" y2="498.1" stroke="#bbb" stroke-width="0.6"/>
<text x="229.2" y="504.68" font-size="4.4" text-anchor="middle" fill="#1a1a1a" stroke="#1a1a1a" stroke-width="0.06">1.2</text>
<line x1="229.2" y1="498.1" x2="229.2" y2="496.6" stroke="#bbb" stroke-width="0.6"/>
<text x="250.5" y="504.68" font-size="4.4" text-anchor="middle" fill="#1a1a1a" stroke="#1a1a1a" stroke-width="0.06">1.4</text>
<line x1="250.5" y1="498.1" x2="250.5" y2="496.6" stroke="#bbb" stroke-width="0.6"/>
<text x="271.5" y="504.68" font-size="4.4" text-anchor="middle" fill="#1a1a1a" stroke="#1a1a1a" stroke-width="0.06">1.6</text>
<line x1="271.5" y1="498.1" x2="271.5" y2="496.6" stroke="#bbb" stroke-width="0.6"/>
<text x="291.5" y="504.68" font-size="4.4" text-anchor="middle" fill="#1a1a1a" stroke="#1a1a1a" stroke-width="0.06">1.8</text>
<line x1="291.5" y1="498.1" x2="291.5" y2="496.6" stroke="#bbb" stroke-width="0.6"/>
<text x="312.5" y="504.68" font-size="4.4" text-anchor="middle" fill="#1a1a1a" stroke="#1a1a1a" stroke-width="0.06">2.0</text>
<line x1="312.5" y1="498.1" x2="312.5" y2="496.6" stroke="#bbb" stroke-width="0.6"/>
<text x="333.7" y="504.68" font-size="4.4" text-anchor="middle" fill="#1a1a1a" stroke="#1a1a1a" stroke-width="0.06">2.2</text>
<line x1="333.7" y1="498.1" x2="333.7" y2="496.6" stroke="#bbb" stroke-width="0.6"/>
<text x="0" y="0" font-size="4.3" text-anchor="middle" fill="#222" stroke="#222" stroke-width="0.06" transform="translate(210.8 454.2) rotate(-90)"><tspan font-size="2.9" dy="-1.3">206</tspan><tspan dy="1.3">Pb/</tspan><tspan font-size="2.9" dy="-1.3">238</tspan><tspan dy="1.3">U</tspan></text>
<text x="278.65" y="507.9" font-size="4.3" text-anchor="middle" fill="#222" stroke="#222" stroke-width="0.06"><tspan font-size="2.9" dy="-1.3">207</tspan><tspan dy="1.3">Pb/</tspan><tspan font-size="2.9" dy="-1.3">235</tspan><tspan dy="1.3">U</tspan></text>
<text x="231.8" y="415.9" font-size="4.73" fill="#1a1a1a" stroke="#1a1a1a" stroke-width="0.06">CVE-2013</text>
<text x="231.8" y="420.3" font-size="4.72" fill="#1a1a1a" stroke="#1a1a1a" stroke-width="0.1">all data; n = 23</text>
<line x1="229.2" y1="494" x2="333.7" y2="418" stroke="#d8d8f4" stroke-width="0.6"/>
<ellipse cx="291.25" cy="447.75" rx="25.75" ry="2.1" transform="rotate(-36.31 291.25 447.75)" fill="none" stroke="#2cb82c" stroke-width="0.5"/>
<ellipse cx="283.4" cy="455" rx="19.91" ry="1" transform="rotate(-33.53 283.4 455)" fill="none" stroke="#2cb82c" stroke-width="0.5"/>
<line x1="281.5" y1="456.2" x2="305.5" y2="441.2" stroke="#2cb82c" stroke-width="2.0"/>
<ellipse cx="309.35" cy="439.55" rx="30.13" ry="1.6" transform="rotate(-36.09 309.35 439.55)" fill="none" stroke="#e83030" stroke-width="0.5"/>
<ellipse cx="312.5" cy="439.25" rx="25.25" ry="1.3" transform="rotate(-35.74 312.5 439.25)" fill="none" stroke="#e83030" stroke-width="0.5"/>
<ellipse cx="316.75" cy="435" rx="20.6" ry="1.1" transform="rotate(-35.62 316.75 435)" fill="none" stroke="#e83030" stroke-width="0.5"/>
<ellipse cx="254.25" cy="478" rx="4.93" ry="1.1" transform="rotate(-30.47 254.25 478)" fill="none" stroke="#7fd67f" stroke-width="0.5"/>
<path d="M229.2 487.3 Q279.44 453.49 333.7 426.6" fill="none" stroke="#1a1a95" stroke-width="1.5"/>
<rect x="243.13" y="469.69" width="7.14" height="3.42" fill="#fff"/>
<text x="246.7" y="472.77" font-size="3.8" text-anchor="middle" fill="#1a1a1a" stroke="#1a1a1a" stroke-width="0.12">900</text>
<rect x="267.67" y="453.79" width="9.25" height="3.42" fill="#fff"/>
<text x="272.3" y="456.87" font-size="3.8" text-anchor="middle" fill="#1a1a1a" stroke="#1a1a1a" stroke-width="0.12">1000</text>
<rect x="297.67" y="436.49" width="9.25" height="3.42" fill="#fff"/>
<text x="302.3" y="439.57" font-size="3.8" text-anchor="middle" fill="#1a1a1a" stroke="#1a1a1a" stroke-width="0.12">1100</text>
<text x="280.2" y="448.9" font-size="3.4" text-anchor="middle" fill="#3cbc3c" transform="rotate(-8 280.2 447.7)">CVE7</text>
<text x="315" y="444.9" font-size="3.5" text-anchor="middle" fill="#e83030" stroke="#e83030" stroke-width="0.12">CVE2</text>
<rect x="271.9" y="478.3" width="63.4" height="18.5" rx="3" fill="#7a7a7a"/>
<rect x="270.3" y="476.5" width="63" height="18.1" rx="3" fill="#fff" stroke="#d4d4d4" stroke-width="0.5"/>
<text x="302" y="481.89" font-size="4.15" text-anchor="middle" fill="#000" stroke="#000" stroke-width="0.03">Intercepts at</text>
<text x="302" y="486.69" font-size="4.15" text-anchor="middle" fill="#000" stroke="#000" stroke-width="0.03">310±190 &amp; 1056±12 &#160;[±13] &#160;Ma</text>
<text x="302" y="491.59" font-size="4.15" text-anchor="middle" fill="#000" stroke="#000" stroke-width="0.03">MSWD = 2.6</text>
<text x="367.5" y="412" font-size="13.2" fill="#000" stroke="#000" stroke-width="0.3">L.</text>
<rect x="411.7" y="409.5" width="100.3" height="88.6" fill="#fff" stroke="#c4c4c4" stroke-width="1.1"/>
<line x1="411.15" y1="409.5" x2="512.55" y2="409.5" stroke="#a4a4a4" stroke-width="1.2"/>
<line x1="512" y1="409.5" x2="512" y2="498.1" stroke="#b4b4b4" stroke-width="1.0"/>
<text x="407.6" y="411.21" font-size="4.2" text-anchor="end" fill="#1a1a1a" stroke="#1a1a1a" stroke-width="0.06">0.196</text>
<line x1="411.7" y1="409.7" x2="413.2" y2="409.7" stroke="#bbb" stroke-width="0.6"/>
<text x="407.6" y="423.91" font-size="4.2" text-anchor="end" fill="#1a1a1a" stroke="#1a1a1a" stroke-width="0.06">0.192</text>
<line x1="411.7" y1="422.4" x2="413.2" y2="422.4" stroke="#bbb" stroke-width="0.6"/>
<text x="407.6" y="436.51" font-size="4.2" text-anchor="end" fill="#1a1a1a" stroke="#1a1a1a" stroke-width="0.06">0.188</text>
<line x1="411.7" y1="435" x2="413.2" y2="435" stroke="#bbb" stroke-width="0.6"/>
<text x="407.6" y="449.01" font-size="4.2" text-anchor="end" fill="#1a1a1a" stroke="#1a1a1a" stroke-width="0.06">0.184</text>
<line x1="411.7" y1="447.5" x2="413.2" y2="447.5" stroke="#bbb" stroke-width="0.6"/>
<text x="407.6" y="461.61" font-size="4.2" text-anchor="end" fill="#1a1a1a" stroke="#1a1a1a" stroke-width="0.06">0.180</text>
<line x1="411.7" y1="460.1" x2="413.2" y2="460.1" stroke="#bbb" stroke-width="0.6"/>
<text x="407.6" y="474.51" font-size="4.2" text-anchor="end" fill="#1a1a1a" stroke="#1a1a1a" stroke-width="0.06">0.176</text>
<line x1="411.7" y1="473" x2="413.2" y2="473" stroke="#bbb" stroke-width="0.6"/>
<text x="407.6" y="487.11" font-size="4.2" text-anchor="end" fill="#1a1a1a" stroke="#1a1a1a" stroke-width="0.06">0.172</text>
<line x1="411.7" y1="485.6" x2="413.2" y2="485.6" stroke="#bbb" stroke-width="0.6"/>
<text x="407.6" y="499.61" font-size="4.2" text-anchor="end" fill="#1a1a1a" stroke="#1a1a1a" stroke-width="0.06">0.168</text>
<line x1="411.7" y1="498.1" x2="413.2" y2="498.1" stroke="#bbb" stroke-width="0.6"/>
<text x="411.7" y="504.61" font-size="4.2" text-anchor="middle" fill="#1a1a1a" stroke="#1a1a1a" stroke-width="0.06">1.74</text>
<line x1="411.7" y1="498.1" x2="411.7" y2="496.6" stroke="#bbb" stroke-width="0.6"/>
<text x="425.9" y="504.61" font-size="4.2" text-anchor="middle" fill="#1a1a1a" stroke="#1a1a1a" stroke-width="0.06">1.78</text>
<line x1="425.9" y1="498.1" x2="425.9" y2="496.6" stroke="#bbb" stroke-width="0.6"/>
<text x="440.1" y="504.61" font-size="4.2" text-anchor="middle" fill="#1a1a1a" stroke="#1a1a1a" stroke-width="0.06">1.82</text>
<line x1="440.1" y1="498.1" x2="440.1" y2="496.6" stroke="#bbb" stroke-width="0.6"/>
<text x="454.3" y="504.61" font-size="4.2" text-anchor="middle" fill="#1a1a1a" stroke="#1a1a1a" stroke-width="0.06">1.86</text>
<line x1="454.3" y1="498.1" x2="454.3" y2="496.6" stroke="#bbb" stroke-width="0.6"/>
<text x="468.5" y="504.61" font-size="4.2" text-anchor="middle" fill="#1a1a1a" stroke="#1a1a1a" stroke-width="0.06">1.90</text>
<line x1="468.5" y1="498.1" x2="468.5" y2="496.6" stroke="#bbb" stroke-width="0.6"/>
<text x="482.8" y="504.61" font-size="4.2" text-anchor="middle" fill="#1a1a1a" stroke="#1a1a1a" stroke-width="0.06">1.94</text>
<line x1="482.8" y1="498.1" x2="482.8" y2="496.6" stroke="#bbb" stroke-width="0.6"/>
<text x="497" y="504.61" font-size="4.2" text-anchor="middle" fill="#1a1a1a" stroke="#1a1a1a" stroke-width="0.06">1.98</text>
<line x1="497" y1="498.1" x2="497" y2="496.6" stroke="#bbb" stroke-width="0.6"/>
<text x="511.2" y="504.61" font-size="4.2" text-anchor="middle" fill="#1a1a1a" stroke="#1a1a1a" stroke-width="0.06">2.02</text>
<line x1="511.2" y1="498.1" x2="511.2" y2="496.6" stroke="#bbb" stroke-width="0.6"/>
<text x="0" y="0" font-size="4.3" text-anchor="middle" fill="#222" stroke="#222" stroke-width="0.06" transform="translate(390.8 454.2) rotate(-90)"><tspan font-size="2.9" dy="-1.3">206</tspan><tspan dy="1.3">Pb/</tspan><tspan font-size="2.9" dy="-1.3">238</tspan><tspan dy="1.3">U</tspan></text>
<text x="459.05" y="508.2" font-size="4.3" text-anchor="middle" fill="#222" stroke="#222" stroke-width="0.06"><tspan font-size="2.9" dy="-1.3">207</tspan><tspan dy="1.3">Pb/</tspan><tspan font-size="2.9" dy="-1.3">235</tspan><tspan dy="1.3">U</tspan></text>
<text x="414" y="414.6" font-size="4.14" fill="#1a1a1a" stroke="#1a1a1a" stroke-width="0.06">CVE-2013</text>
<text x="414" y="419.1" font-size="3.8" fill="#1a1a1a" stroke="#1a1a1a" stroke-width="0.1">rims 97-103%</text>
<path d="M411.7 484.8 Q461.26 455.6 512 428.5" fill="none" stroke="#4040cc" stroke-width="3.2"/>
<path d="M411.7 484.8 Q461.26 455.6 512 428.5" fill="none" stroke="#e4e4f8" stroke-width="1.5"/>
<ellipse cx="459.6" cy="453.95" rx="38.94" ry="3" transform="rotate(-39.84 459.6 453.95)" fill="none" stroke="#2cb82c" stroke-width="0.6"/>
<ellipse cx="459" cy="455" rx="34.83" ry="1.8" transform="rotate(-39.17 459 455)" fill="none" stroke="#2cb82c" stroke-width="0.5"/>
<ellipse cx="452.41" cy="462.07" rx="8.71" ry="1.47" transform="rotate(-39.53 452.41 462.07)" fill="none" stroke="#20a020" stroke-width="0.6"/>
<ellipse cx="452.94" cy="459.76" rx="9.52" ry="1.02" transform="rotate(-37.25 452.94 459.76)" fill="none" stroke="#20a020" stroke-width="0.6"/>
<ellipse cx="457.93" cy="457.92" rx="6.56" ry="1.16" transform="rotate(-38.04 457.93 457.92)" fill="none" stroke="#20a020" stroke-width="0.6"/>
<ellipse cx="453.26" cy="461.7" rx="6.25" ry="1.98" transform="rotate(-38.67 453.26 461.7)" fill="none" stroke="#20a020" stroke-width="0.6"/>
<ellipse cx="453.5" cy="460.12" rx="6.94" ry="0.82" transform="rotate(-42.07 453.5 460.12)" fill="none" stroke="#20a020" stroke-width="0.6"/>
<ellipse cx="454.31" cy="458.9" rx="7.45" ry="0.84" transform="rotate(-36.85 454.31 458.9)" fill="none" stroke="#20a020" stroke-width="0.6"/>
<ellipse cx="453.29" cy="459.41" rx="9.11" ry="1.57" transform="rotate(-39.93 453.29 459.41)" fill="none" stroke="#20a020" stroke-width="0.6"/>
<ellipse cx="454.4" cy="461.14" rx="7.67" ry="2" transform="rotate(-37.93 454.4 461.14)" fill="none" stroke="#20a020" stroke-width="0.6"/>
<ellipse cx="455.13" cy="458.97" rx="7.89" ry="1.08" transform="rotate(-37.46 455.13 458.97)" fill="none" stroke="#20a020" stroke-width="0.6"/>
<ellipse cx="453.19" cy="459.16" rx="8.4" ry="1.82" transform="rotate(-41.91 453.19 459.16)" fill="none" stroke="#20a020" stroke-width="0.6"/>
<ellipse cx="453.4" cy="460.45" rx="11.46" ry="1.36" transform="rotate(-43.01 453.4 460.45)" fill="none" stroke="#20a020" stroke-width="0.6"/>
<ellipse cx="455.34" cy="458.83" rx="9.78" ry="1.73" transform="rotate(-40.93 455.34 458.83)" fill="none" stroke="#20a020" stroke-width="0.6"/>
<ellipse cx="455.87" cy="458.86" rx="11.78" ry="1.71" transform="rotate(-42.78 455.87 458.86)" fill="none" stroke="#20a020" stroke-width="0.6"/>
<ellipse cx="458.15" cy="456.98" rx="6.36" ry="1.76" transform="rotate(-40.01 458.15 456.98)" fill="none" stroke="#20a020" stroke-width="0.6"/>
<line x1="443" y1="469" x2="465" y2="451" stroke="#1a3a1a" stroke-width="1.4"/>
<rect x="435.1" y="462.28" width="8.81" height="3.24" fill="#fff"/>
<text x="439.5" y="465.2" font-size="3.6" text-anchor="middle" fill="#1a1a1a" stroke="#1a1a1a" stroke-width="0.12">1060</text>
<rect x="479.6" y="437.98" width="8.81" height="3.24" fill="#fff"/>
<text x="484" y="440.9" font-size="3.6" text-anchor="middle" fill="#1a1a1a" stroke="#1a1a1a" stroke-width="0.12">1100</text>
<rect x="445.6" y="474" width="89" height="22" rx="3" fill="#7a7a7a"/>
<rect x="444" y="472.2" width="88.6" height="21.6" rx="3" fill="#fff" stroke="#d4d4d4" stroke-width="0.5"/>
<text x="488.3" y="477.49" font-size="4.15" text-anchor="middle" fill="#000" stroke="#000" stroke-width="0.03">Concordia Age = 1066.0 ±6.3 Ma</text>
<text x="488.3" y="482.09" font-size="4.15" text-anchor="middle" fill="#000" stroke="#000" stroke-width="0.03">(95% confidence, decay-const. errs included)</text>
<text x="488.3" y="487.09" font-size="4.15" text-anchor="middle" fill="#000" stroke="#000" stroke-width="0.03">MSWD (of concordance) = 0.15,</text>
<text x="488.3" y="492.09" font-size="4.15" text-anchor="middle" fill="#000" stroke="#000" stroke-width="0.03">Probability (of concordance) = 0.70</text>
</svg>
</body></html>
